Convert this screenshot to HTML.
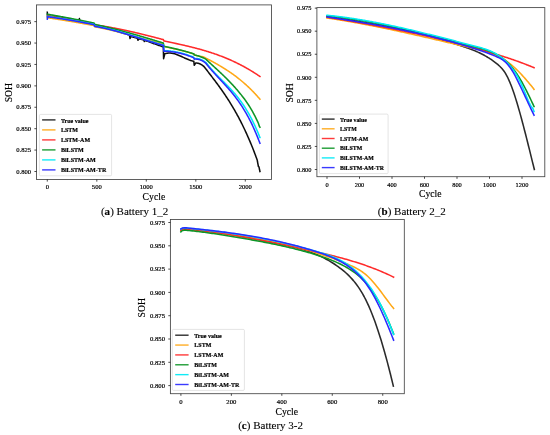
<!DOCTYPE html>
<html><head><meta charset="utf-8"><title>Figure</title>
<style>
html,body{margin:0;padding:0;background:#fff;}
body{width:550px;height:435px;overflow:hidden;position:relative;font-family:"Liberation Serif",serif;}
svg{position:absolute;left:0;top:0;display:block}
.tk{font:6.4px "Liberation Serif",serif;fill:#000;stroke:#000;stroke-width:0.2px}
.lg{font:bold 5.9px "Liberation Serif",serif;fill:#000;stroke:#000;stroke-width:0.18px}
.ax{font:9.7px "Liberation Serif",serif;fill:#000;stroke:#000;stroke-width:0.15px}
.cap{font:9.8px "Liberation Serif",serif;fill:#000;stroke:#000;stroke-width:0.1px}
.cap tspan{font-weight:bold}
</style></head><body>
<svg width="550" height="435" viewBox="0 0 550 435">
<defs><filter id="soft" x="-2%" y="-2%" width="104%" height="104%"><feGaussianBlur stdDeviation="0.32"/></filter></defs>
<rect width="550" height="435" fill="#fff"/>
<g filter="url(#soft)">
<g fill="none" stroke-linejoin="round" stroke-linecap="square">
<path d="M47.30,12.21 L47.50,16.06 L47.50,16.06 L48.10,16.12 L48.71,16.18 L49.31,16.24 L49.92,16.30 L50.53,16.36 L51.13,16.42 L51.74,16.49 L52.34,16.55 L52.95,16.62 L53.55,16.69 L54.16,16.76 L54.76,16.83 L55.37,16.90 L55.97,16.97 L56.58,17.04 L57.18,17.12 L57.79,17.19 L58.40,17.27 L59.00,17.35 L59.61,17.43 L60.21,17.51 L60.82,17.59 L61.42,17.67 L62.03,17.76 L62.63,17.84 L63.24,17.93 L63.84,18.02 L64.45,18.11 L65.06,18.20 L65.66,18.29 L66.27,18.38 L66.87,18.48 L67.48,18.57 L68.08,18.67 L68.69,18.76 L69.29,18.86 L69.90,18.96 L70.50,19.06 L71.11,19.17 L71.71,19.27 L72.32,19.37 L72.93,19.48 L73.53,19.59 L74.14,19.69 L74.74,19.80 L75.35,19.91 L75.95,20.03 L76.56,20.14 L77.16,20.25 L77.77,20.37 L78.37,20.48 L78.98,20.60 L79.38,18.63 L79.97,20.94 L79.97,21.12 L80.61,21.27 L81.25,21.42 L81.89,21.56 L82.53,21.71 L83.16,21.85 L83.80,21.99 L84.44,22.13 L85.08,22.27 L85.72,22.41 L86.36,22.54 L87.00,22.68 L87.64,22.81 L88.28,22.94 L88.92,23.07 L89.56,23.19 L90.19,23.32 L90.83,23.44 L91.47,23.56 L92.11,23.68 L92.75,23.80 L93.39,23.91 L94.03,24.03 L94.62,25.48 L95.23,25.63 L95.84,25.77 L96.46,25.92 L97.07,26.06 L97.68,26.21 L98.29,26.36 L98.90,26.51 L99.51,26.66 L100.12,26.81 L100.74,26.96 L101.35,27.11 L101.96,27.26 L102.57,27.42 L103.18,27.57 L103.79,27.73 L104.40,27.89 L105.02,28.05 L105.63,28.21 L106.24,28.37 L106.85,28.53 L107.46,28.69 L108.07,28.85 L108.68,29.02 L109.29,29.18 L109.91,29.35 L110.52,29.51 L111.13,29.68 L111.74,29.85 L112.35,30.02 L112.96,30.19 L113.57,30.36 L114.19,30.54 L114.80,30.71 L115.41,30.88 L116.02,31.06 L116.63,31.24 L117.24,31.41 L117.85,31.59 L118.47,31.77 L119.08,31.95 L119.69,32.13 L120.30,32.32 L120.91,32.50 L121.52,32.68 L122.13,32.87 L122.74,33.05 L123.36,33.24 L123.97,33.43 L124.58,33.62 L125.19,33.81 L125.80,34.00 L126.41,34.19 L127.02,34.38 L127.64,34.57 L128.25,34.77 L128.86,34.96 L129.47,35.16 L130.06,38.50 L130.95,36.19 L130.95,36.62 L137.39,38.33 L137.98,40.21 L139.37,38.76 L143.82,40.04 L144.32,41.50 L145.31,40.47 L145.31,40.47 L145.93,40.70 L146.55,40.93 L147.17,41.16 L147.80,41.39 L148.42,41.62 L149.04,41.85 L149.66,42.08 L150.28,42.31 L150.90,42.53 L151.52,42.76 L152.14,42.98 L152.77,43.20 L153.39,43.43 L154.01,43.65 L154.63,43.87 L155.25,44.09 L155.87,44.31 L156.49,44.53 L157.11,44.75 L157.74,44.97 L158.36,45.18 L158.98,45.40 L159.60,45.62 L160.22,45.83 L160.84,46.05 L161.46,46.26 L162.09,46.47 L162.71,46.68 L163.33,46.89 L163.62,58.63 L164.81,53.83 L164.81,53.83 L165.43,53.62 L166.05,53.45 L166.66,53.31 L167.28,53.20 L167.90,53.12 L168.52,53.07 L169.13,53.04 L169.75,53.04 L170.37,53.07 L170.98,53.12 L171.60,53.19 L172.22,53.29 L172.84,53.40 L173.45,53.54 L174.07,53.69 L174.69,53.86 L175.30,54.05 L175.92,54.25 L176.54,54.46 L177.16,54.69 L177.77,54.92 L178.39,55.17 L179.01,55.43 L179.63,55.69 L180.24,55.96 L180.86,56.24 L181.48,56.52 L182.09,56.80 L182.71,57.09 L183.33,57.38 L183.95,57.66 L184.56,57.95 L185.18,58.23 L185.80,58.51 L186.41,58.78 L187.03,59.05 L187.65,59.31 L188.27,59.56 L188.88,59.81 L189.50,60.04 L190.12,60.26 L190.73,60.47 L191.35,60.66 L191.97,60.84 L192.59,61.00 L193.20,61.15 L193.82,61.27 L194.22,65.22 L195.70,62.99 L195.70,62.99 L196.35,63.00 L197.00,63.06 L197.64,63.16 L198.29,63.30 L198.94,63.50 L199.58,63.73 L200.23,64.02 L200.88,64.35 L201.53,64.72 L202.17,65.14 L202.82,65.61 L203.47,66.12 L204.12,66.68 L204.12,66.66 L204.72,67.44 L205.32,68.23 L205.93,69.01 L206.53,69.79 L207.13,70.57 L207.73,71.35 L208.34,72.14 L208.94,72.92 L209.54,73.70 L210.15,74.48 L210.75,75.27 L211.35,76.06 L211.95,76.85 L212.56,77.64 L213.16,78.43 L213.76,79.22 L214.37,80.02 L214.97,80.82 L215.57,81.63 L216.18,82.44 L216.78,83.25 L217.38,84.07 L217.99,84.89 L218.59,85.71 L219.19,86.54 L219.79,87.38 L220.40,88.22 L221.00,89.07 L221.60,89.92 L222.21,90.78 L222.81,91.64 L223.41,92.52 L224.01,93.39 L224.62,94.28 L225.22,95.17 L225.82,96.08 L226.43,96.98 L227.03,97.90 L227.63,98.83 L228.24,99.76 L228.84,100.71 L229.44,101.66 L230.05,102.62 L230.65,103.59 L231.25,104.58 L231.85,105.57 L232.46,106.57 L233.06,107.59 L233.66,108.61 L234.27,109.65 L234.87,110.70 L235.47,111.76 L236.07,112.83 L236.68,113.91 L237.28,115.01 L237.88,116.12 L238.49,117.24 L239.09,118.38 L239.69,119.53 L240.30,120.69 L240.90,121.87 L241.50,123.07 L242.11,124.27 L242.71,125.49 L243.31,126.73 L243.91,127.99 L244.52,129.25 L245.12,130.54 L245.72,131.84 L246.33,133.16 L246.93,134.49 L247.53,135.84 L248.13,137.21 L248.74,138.60 L249.34,140.00 L249.94,141.42 L250.55,142.86 L251.15,144.32 L251.75,145.80 L252.36,147.29 L252.96,148.81 L253.56,150.34 L254.17,151.90 L254.77,153.47 L255.37,155.07 L255.97,156.68 L256.58,158.32 L257.18,159.98 L258.37,166.36 L258.96,166.79 L259.95,171.50" stroke="#111" stroke-width="1.55"/>
<path d="M47.30,17.69 L47.91,17.78 L48.51,17.87 L49.12,17.96 L49.73,18.05 L50.33,18.15 L50.94,18.24 L51.55,18.33 L52.15,18.42 L52.76,18.52 L53.37,18.61 L53.98,18.70 L54.58,18.80 L55.19,18.89 L55.80,18.99 L56.40,19.08 L57.01,19.18 L57.62,19.27 L58.22,19.37 L58.83,19.46 L59.44,19.56 L60.04,19.66 L60.65,19.76 L61.26,19.85 L61.86,19.95 L62.47,20.05 L63.08,20.15 L63.69,20.25 L64.29,20.34 L64.90,20.44 L65.51,20.54 L66.11,20.64 L66.72,20.74 L67.33,20.84 L67.93,20.94 L68.54,21.05 L69.15,21.15 L69.75,21.25 L70.36,21.35 L70.97,21.45 L71.57,21.56 L72.18,21.66 L72.79,21.76 L73.39,21.86 L74.00,21.97 L74.61,22.07 L75.22,22.18 L75.82,22.28 L76.43,22.39 L77.04,22.49 L77.64,22.60 L78.25,22.70 L78.86,22.81 L79.46,22.92 L80.07,23.02 L80.68,23.13 L81.28,23.24 L81.89,23.35 L82.50,23.46 L83.10,23.56 L83.71,23.67 L84.32,23.78 L84.93,23.89 L85.53,24.00 L86.14,24.11 L86.75,24.22 L87.35,24.33 L87.96,24.44 L88.57,24.55 L89.17,24.67 L89.78,24.78 L90.39,24.89 L90.99,25.00 L91.60,25.12 L92.21,25.23 L92.81,25.34 L93.42,25.46 L94.03,25.57 L94.62,26.77 L95.22,26.87 L95.83,26.98 L96.43,27.09 L97.03,27.20 L97.64,27.31 L98.24,27.43 L98.84,27.54 L99.44,27.66 L100.05,27.78 L100.65,27.90 L101.25,28.02 L101.85,28.15 L102.46,28.27 L103.06,28.40 L103.66,28.52 L104.26,28.65 L104.87,28.78 L105.47,28.91 L106.07,29.04 L106.68,29.18 L107.28,29.31 L107.88,29.45 L108.48,29.58 L109.09,29.72 L109.69,29.86 L110.29,30.00 L110.89,30.14 L111.50,30.29 L112.10,30.43 L112.70,30.57 L113.31,30.72 L113.91,30.87 L114.51,31.01 L115.11,31.16 L115.72,31.31 L116.32,31.46 L116.92,31.61 L117.52,31.76 L118.13,31.91 L118.73,32.07 L119.33,32.22 L119.93,32.38 L120.54,32.53 L121.14,32.69 L121.74,32.84 L122.35,33.00 L122.95,33.16 L123.55,33.32 L124.15,33.48 L124.76,33.64 L125.36,33.80 L125.96,33.96 L126.56,34.12 L127.17,34.28 L127.77,34.44 L128.37,34.60 L128.97,34.77 L129.58,34.93 L130.18,35.09 L130.78,35.26 L131.39,35.42 L131.99,35.59 L132.59,35.75 L133.19,35.92 L133.80,36.08 L134.40,36.25 L135.00,36.41 L135.60,36.58 L136.21,36.74 L136.81,36.91 L137.41,37.08 L138.02,37.24 L138.62,37.41 L139.22,37.57 L139.82,37.74 L140.43,37.91 L141.03,38.07 L141.63,38.24 L142.23,38.40 L142.84,38.57 L143.44,38.74 L144.04,38.90 L144.64,39.07 L145.25,39.23 L145.85,39.40 L146.45,39.56 L147.06,39.73 L147.66,39.89 L148.26,40.05 L148.86,40.22 L149.47,40.38 L150.07,40.54 L150.67,40.71 L151.27,40.87 L151.88,41.03 L152.48,41.19 L153.08,41.35 L153.69,41.51 L154.29,41.67 L154.89,41.83 L155.49,41.99 L156.10,42.14 L156.70,42.30 L157.30,42.46 L157.90,42.61 L158.51,42.77 L159.11,42.92 L159.71,43.08 L160.31,43.23 L160.92,43.38 L161.52,43.53 L162.12,43.68 L162.73,43.83 L163.33,43.98 L163.92,46.64 L164.53,46.75 L165.14,46.86 L165.75,46.98 L166.36,47.09 L166.97,47.21 L167.58,47.33 L168.19,47.45 L168.80,47.58 L169.41,47.70 L170.02,47.83 L170.63,47.96 L171.24,48.09 L171.85,48.22 L172.46,48.35 L173.07,48.48 L173.68,48.62 L174.29,48.76 L174.90,48.90 L175.52,49.04 L176.13,49.18 L176.74,49.32 L177.35,49.47 L177.96,49.62 L178.57,49.76 L179.18,49.92 L179.79,50.07 L180.40,50.22 L181.01,50.38 L181.62,50.53 L182.23,50.69 L182.84,50.85 L183.45,51.01 L184.06,51.18 L184.67,51.34 L185.28,51.51 L185.89,51.67 L186.50,51.84 L187.11,52.01 L187.72,52.19 L188.33,52.36 L188.94,52.54 L189.55,52.71 L190.16,52.89 L190.77,53.07 L191.38,53.26 L191.99,53.44 L192.60,53.63 L193.21,53.81 L193.82,54.00 L194.22,55.03 L194.87,55.20 L195.53,55.36 L196.19,55.51 L196.85,55.66 L197.50,55.80 L198.16,55.94 L198.82,56.07 L199.48,56.19 L200.13,56.31 L200.79,56.43 L201.45,56.54 L202.11,56.64 L202.77,56.74 L203.42,56.83 L203.42,56.83 L204.02,57.14 L204.63,57.45 L205.23,57.77 L205.83,58.08 L206.43,58.39 L207.03,58.71 L207.63,59.03 L208.23,59.34 L208.84,59.66 L209.44,59.98 L210.04,60.30 L210.64,60.63 L211.24,60.95 L211.84,61.28 L212.44,61.60 L213.04,61.93 L213.65,62.26 L214.25,62.60 L214.85,62.93 L215.45,63.27 L216.05,63.60 L216.65,63.95 L217.25,64.29 L217.86,64.63 L218.46,64.98 L219.06,65.33 L219.66,65.68 L220.26,66.04 L220.86,66.39 L221.46,66.75 L222.07,67.12 L222.67,67.48 L223.27,67.85 L223.87,68.23 L224.47,68.60 L225.07,68.98 L225.67,69.36 L226.28,69.75 L226.88,70.14 L227.48,70.53 L228.08,70.92 L228.68,71.32 L229.28,71.73 L229.88,72.14 L230.48,72.55 L231.09,72.96 L231.69,73.38 L232.29,73.81 L232.89,74.24 L233.49,74.67 L234.09,75.10 L234.69,75.55 L235.30,75.99 L235.90,76.44 L236.50,76.90 L237.10,77.36 L237.70,77.82 L238.30,78.30 L238.90,78.77 L239.51,79.25 L240.11,79.74 L240.71,80.23 L241.31,80.73 L241.91,81.23 L242.51,81.73 L243.11,82.25 L243.71,82.77 L244.32,83.29 L244.92,83.82 L245.52,84.36 L246.12,84.90 L246.72,85.45 L247.32,86.01 L247.92,86.57 L248.53,87.13 L249.13,87.71 L249.73,88.29 L250.33,88.88 L250.93,89.47 L251.53,90.07 L252.13,90.68 L252.74,91.29 L253.34,91.91 L253.94,92.54 L254.54,93.18 L255.14,93.82 L255.74,94.47 L256.34,95.13 L256.95,95.79 L257.55,96.47 L258.15,97.15 L258.75,97.84 L259.35,98.53 L259.95,99.23" stroke="#ffa714" stroke-width="1.55"/>
<path d="M47.30,16.06 L47.91,16.14 L48.51,16.21 L49.12,16.28 L49.73,16.36 L50.33,16.43 L50.94,16.51 L51.55,16.59 L52.15,16.66 L52.76,16.74 L53.37,16.82 L53.98,16.90 L54.58,16.98 L55.19,17.06 L55.80,17.14 L56.40,17.23 L57.01,17.31 L57.62,17.39 L58.22,17.48 L58.83,17.56 L59.44,17.65 L60.04,17.73 L60.65,17.82 L61.26,17.91 L61.86,18.00 L62.47,18.09 L63.08,18.18 L63.69,18.27 L64.29,18.36 L64.90,18.45 L65.51,18.54 L66.11,18.64 L66.72,18.73 L67.33,18.83 L67.93,18.92 L68.54,19.02 L69.15,19.11 L69.75,19.21 L70.36,19.31 L70.97,19.41 L71.57,19.51 L72.18,19.61 L72.79,19.71 L73.39,19.81 L74.00,19.92 L74.61,20.02 L75.22,20.12 L75.82,20.23 L76.43,20.33 L77.04,20.44 L77.64,20.54 L78.25,20.65 L78.86,20.76 L79.46,20.87 L80.07,20.98 L80.68,21.09 L81.28,21.20 L81.89,21.31 L82.50,21.42 L83.10,21.54 L83.71,21.65 L84.32,21.76 L84.93,21.88 L85.53,21.99 L86.14,22.11 L86.75,22.23 L87.35,22.34 L87.96,22.46 L88.57,22.58 L89.17,22.70 L89.78,22.82 L90.39,22.94 L90.99,23.07 L91.60,23.19 L92.21,23.31 L92.81,23.44 L93.42,23.56 L94.03,23.69 L94.62,24.89 L95.22,24.97 L95.83,25.05 L96.43,25.13 L97.03,25.22 L97.64,25.30 L98.24,25.39 L98.84,25.48 L99.44,25.56 L100.05,25.65 L100.65,25.75 L101.25,25.84 L101.85,25.93 L102.46,26.02 L103.06,26.12 L103.66,26.22 L104.26,26.31 L104.87,26.41 L105.47,26.51 L106.07,26.61 L106.68,26.71 L107.28,26.82 L107.88,26.92 L108.48,27.03 L109.09,27.13 L109.69,27.24 L110.29,27.35 L110.89,27.46 L111.50,27.56 L112.10,27.68 L112.70,27.79 L113.31,27.90 L113.91,28.01 L114.51,28.13 L115.11,28.24 L115.72,28.36 L116.32,28.48 L116.92,28.60 L117.52,28.71 L118.13,28.83 L118.73,28.95 L119.33,29.08 L119.93,29.20 L120.54,29.32 L121.14,29.45 L121.74,29.57 L122.35,29.70 L122.95,29.82 L123.55,29.95 L124.15,30.08 L124.76,30.21 L125.36,30.34 L125.96,30.47 L126.56,30.60 L127.17,30.73 L127.77,30.86 L128.37,31.00 L128.97,31.13 L129.58,31.26 L130.18,31.40 L130.78,31.54 L131.39,31.67 L131.99,31.81 L132.59,31.95 L133.19,32.09 L133.80,32.23 L134.40,32.36 L135.00,32.51 L135.60,32.65 L136.21,32.79 L136.81,32.93 L137.41,33.07 L138.02,33.22 L138.62,33.36 L139.22,33.50 L139.82,33.65 L140.43,33.79 L141.03,33.94 L141.63,34.09 L142.23,34.23 L142.84,34.38 L143.44,34.53 L144.04,34.68 L144.64,34.83 L145.25,34.98 L145.85,35.13 L146.45,35.28 L147.06,35.43 L147.66,35.58 L148.26,35.73 L148.86,35.88 L149.47,36.03 L150.07,36.19 L150.67,36.34 L151.27,36.49 L151.88,36.64 L152.48,36.80 L153.08,36.95 L153.69,37.11 L154.29,37.26 L154.89,37.42 L155.49,37.57 L156.10,37.73 L156.70,37.88 L157.30,38.04 L157.90,38.20 L158.51,38.35 L159.11,38.51 L159.71,38.67 L160.31,38.83 L160.92,38.98 L161.52,39.14 L162.12,39.30 L162.73,39.46 L163.33,39.62 L163.92,40.99 L164.52,41.11 L165.12,41.24 L165.72,41.36 L166.32,41.48 L166.92,41.61 L167.52,41.73 L168.12,41.85 L168.72,41.98 L169.32,42.10 L169.92,42.23 L170.52,42.35 L171.12,42.48 L171.72,42.60 L172.32,42.73 L172.92,42.86 L173.53,42.98 L174.13,43.11 L174.73,43.24 L175.33,43.37 L175.93,43.50 L176.53,43.62 L177.13,43.75 L177.73,43.88 L178.33,44.02 L178.93,44.15 L179.53,44.28 L180.13,44.41 L180.73,44.54 L181.33,44.68 L181.93,44.81 L182.53,44.95 L183.13,45.08 L183.73,45.22 L184.33,45.36 L184.93,45.50 L185.53,45.64 L186.13,45.78 L186.73,45.92 L187.33,46.06 L187.93,46.20 L188.53,46.35 L189.13,46.49 L189.73,46.64 L190.33,46.78 L190.93,46.93 L191.53,47.08 L192.13,47.23 L192.73,47.38 L193.33,47.53 L193.93,47.68 L194.53,47.84 L195.13,47.99 L195.73,48.15 L196.33,48.31 L196.93,48.47 L197.53,48.63 L198.13,48.79 L198.73,48.95 L199.33,49.12 L199.93,49.28 L200.53,49.45 L201.13,49.62 L201.73,49.79 L202.33,49.96 L202.93,50.13 L203.53,50.31 L204.13,50.48 L204.73,50.66 L205.33,50.84 L205.94,51.02 L206.54,51.20 L207.14,51.39 L207.74,51.57 L208.34,51.76 L208.94,51.95 L209.54,52.14 L210.14,52.33 L210.74,52.52 L211.34,52.72 L211.94,52.92 L212.54,53.12 L213.14,53.32 L213.74,53.52 L214.34,53.73 L214.94,53.93 L215.54,54.14 L216.14,54.35 L216.74,54.56 L217.34,54.78 L217.94,55.00 L218.54,55.21 L219.14,55.44 L219.74,55.66 L220.34,55.88 L220.94,56.11 L221.54,56.34 L222.14,56.57 L222.74,56.81 L223.34,57.04 L223.94,57.28 L224.54,57.52 L225.14,57.76 L225.74,58.01 L226.34,58.25 L226.94,58.50 L227.54,58.76 L228.14,59.01 L228.74,59.27 L229.34,59.53 L229.94,59.79 L230.54,60.05 L231.14,60.32 L231.74,60.59 L232.34,60.86 L232.94,61.14 L233.54,61.41 L234.14,61.69 L234.74,61.97 L235.34,62.26 L235.94,62.55 L236.54,62.84 L237.14,63.13 L237.75,63.43 L238.35,63.72 L238.95,64.03 L239.55,64.33 L240.15,64.64 L240.75,64.95 L241.35,65.26 L241.95,65.57 L242.55,65.89 L243.15,66.22 L243.75,66.54 L244.35,66.87 L244.95,67.20 L245.55,67.53 L246.15,67.87 L246.75,68.21 L247.35,68.55 L247.95,68.90 L248.55,69.24 L249.15,69.60 L249.75,69.95 L250.35,70.31 L250.95,70.67 L251.55,71.04 L252.15,71.41 L252.75,71.78 L253.35,72.15 L253.95,72.53 L254.55,72.91 L255.15,73.30 L255.75,73.69 L256.35,74.08 L256.95,74.47 L257.55,74.87 L258.15,75.27 L258.75,75.68 L259.35,76.09 L259.95,76.50" stroke="#ff2b2b" stroke-width="1.55"/>
<path d="M47.30,14.18 L47.91,14.28 L48.51,14.39 L49.12,14.49 L49.73,14.59 L50.33,14.70 L50.94,14.80 L51.55,14.91 L52.15,15.02 L52.76,15.12 L53.37,15.23 L53.98,15.33 L54.58,15.44 L55.19,15.55 L55.80,15.66 L56.40,15.76 L57.01,15.87 L57.62,15.98 L58.22,16.09 L58.83,16.20 L59.44,16.31 L60.04,16.42 L60.65,16.53 L61.26,16.64 L61.86,16.75 L62.47,16.86 L63.08,16.97 L63.69,17.08 L64.29,17.20 L64.90,17.31 L65.51,17.42 L66.11,17.54 L66.72,17.65 L67.33,17.76 L67.93,17.88 L68.54,17.99 L69.15,18.11 L69.75,18.22 L70.36,18.34 L70.97,18.45 L71.57,18.57 L72.18,18.68 L72.79,18.80 L73.39,18.92 L74.00,19.03 L74.61,19.15 L75.22,19.27 L75.82,19.39 L76.43,19.51 L77.04,19.63 L77.64,19.75 L78.25,19.86 L78.86,19.98 L79.46,20.10 L80.07,20.23 L80.68,20.35 L81.28,20.47 L81.89,20.59 L82.50,20.71 L83.10,20.83 L83.71,20.95 L84.32,21.08 L84.93,21.20 L85.53,21.32 L86.14,21.45 L86.75,21.57 L87.35,21.70 L87.96,21.82 L88.57,21.95 L89.17,22.07 L89.78,22.20 L90.39,22.32 L90.99,22.45 L91.60,22.58 L92.21,22.70 L92.81,22.83 L93.42,22.96 L94.03,23.09 L94.62,24.37 L95.22,24.50 L95.83,24.63 L96.43,24.76 L97.03,24.89 L97.64,25.02 L98.24,25.15 L98.84,25.28 L99.44,25.42 L100.05,25.55 L100.65,25.69 L101.25,25.82 L101.85,25.96 L102.46,26.10 L103.06,26.24 L103.66,26.37 L104.26,26.52 L104.87,26.66 L105.47,26.80 L106.07,26.94 L106.68,27.08 L107.28,27.23 L107.88,27.37 L108.48,27.52 L109.09,27.67 L109.69,27.81 L110.29,27.96 L110.89,28.11 L111.50,28.26 L112.10,28.41 L112.70,28.56 L113.31,28.71 L113.91,28.86 L114.51,29.02 L115.11,29.17 L115.72,29.32 L116.32,29.48 L116.92,29.63 L117.52,29.79 L118.13,29.95 L118.73,30.10 L119.33,30.26 L119.93,30.42 L120.54,30.58 L121.14,30.74 L121.74,30.90 L122.35,31.06 L122.95,31.22 L123.55,31.39 L124.15,31.55 L124.76,31.71 L125.36,31.88 L125.96,32.04 L126.56,32.21 L127.17,32.37 L127.77,32.54 L128.37,32.70 L128.97,32.87 L129.58,33.04 L130.18,33.21 L130.78,33.38 L131.39,33.55 L131.99,33.72 L132.59,33.89 L133.19,34.06 L133.80,34.23 L134.40,34.40 L135.00,34.57 L135.60,34.74 L136.21,34.92 L136.81,35.09 L137.41,35.26 L138.02,35.44 L138.62,35.61 L139.22,35.79 L139.82,35.96 L140.43,36.14 L141.03,36.32 L141.63,36.49 L142.23,36.67 L142.84,36.85 L143.44,37.02 L144.04,37.20 L144.64,37.38 L145.25,37.56 L145.85,37.74 L146.45,37.92 L147.06,38.10 L147.66,38.28 L148.26,38.46 L148.86,38.64 L149.47,38.82 L150.07,39.00 L150.67,39.18 L151.27,39.36 L151.88,39.54 L152.48,39.73 L153.08,39.91 L153.69,40.09 L154.29,40.27 L154.89,40.46 L155.49,40.64 L156.10,40.82 L156.70,41.01 L157.30,41.19 L157.90,41.38 L158.51,41.56 L159.11,41.74 L159.71,41.93 L160.31,42.11 L160.92,42.30 L161.52,42.48 L162.12,42.67 L162.73,42.85 L163.33,43.04 L163.92,46.38 L164.53,46.50 L165.14,46.61 L165.75,46.73 L166.36,46.85 L166.97,46.98 L167.58,47.10 L168.19,47.22 L168.80,47.35 L169.41,47.48 L170.02,47.61 L170.63,47.74 L171.24,47.87 L171.85,48.01 L172.46,48.14 L173.07,48.28 L173.68,48.42 L174.29,48.56 L174.90,48.70 L175.52,48.84 L176.13,48.99 L176.74,49.13 L177.35,49.28 L177.96,49.43 L178.57,49.58 L179.18,49.73 L179.79,49.89 L180.40,50.04 L181.01,50.20 L181.62,50.36 L182.23,50.52 L182.84,50.68 L183.45,50.84 L184.06,51.00 L184.67,51.17 L185.28,51.34 L185.89,51.50 L186.50,51.67 L187.11,51.85 L187.72,52.02 L188.33,52.19 L188.94,52.37 L189.55,52.55 L190.16,52.73 L190.77,52.91 L191.38,53.09 L191.99,53.27 L192.60,53.46 L193.21,53.64 L193.82,53.83 L194.22,54.86 L194.85,55.00 L195.48,55.15 L196.11,55.31 L196.75,55.48 L197.38,55.66 L198.01,55.85 L198.64,56.05 L199.28,56.27 L199.91,56.49 L200.54,56.72 L201.17,56.97 L201.81,57.22 L202.44,57.49 L203.07,57.76 L203.70,58.05 L204.34,58.34 L204.97,58.65 L205.60,58.97 L205.60,58.96 L206.20,59.52 L206.80,60.08 L207.40,60.64 L208.00,61.19 L208.60,61.75 L209.21,62.30 L209.81,62.85 L210.41,63.40 L211.01,63.96 L211.61,64.51 L212.21,65.06 L212.81,65.61 L213.41,66.16 L214.01,66.71 L214.61,67.26 L215.21,67.81 L215.81,68.37 L216.41,68.92 L217.02,69.48 L217.62,70.03 L218.22,70.59 L218.82,71.15 L219.42,71.71 L220.02,72.28 L220.62,72.85 L221.22,73.41 L221.82,73.99 L222.42,74.56 L223.02,75.14 L223.62,75.72 L224.22,76.30 L224.82,76.89 L225.43,77.48 L226.03,78.07 L226.63,78.67 L227.23,79.27 L227.83,79.88 L228.43,80.49 L229.03,81.10 L229.63,81.72 L230.23,82.35 L230.83,82.98 L231.43,83.61 L232.03,84.25 L232.63,84.90 L233.24,85.55 L233.84,86.21 L234.44,86.87 L235.04,87.54 L235.64,88.22 L236.24,88.90 L236.84,89.59 L237.44,90.29 L238.04,91.00 L238.64,91.71 L239.24,92.43 L239.84,93.15 L240.44,93.89 L241.05,94.63 L241.65,95.39 L242.25,96.15 L242.85,96.93 L243.45,97.72 L244.05,98.52 L244.65,99.33 L245.25,100.16 L245.85,101.00 L246.45,101.86 L247.05,102.74 L247.65,103.63 L248.25,104.54 L248.86,105.47 L249.46,106.42 L250.06,107.39 L250.66,108.38 L251.26,109.39 L251.86,110.42 L252.46,111.48 L253.06,112.56 L253.66,113.67 L254.26,114.80 L254.86,115.95 L255.46,117.14 L256.06,118.35 L256.66,119.59 L257.27,120.86 L257.87,122.16 L258.47,123.49 L259.26,126.11 L259.95,127.31" stroke="#0c9526" stroke-width="1.55"/>
<path d="M47.30,16.49 L47.91,16.57 L48.51,16.65 L49.12,16.73 L49.73,16.81 L50.33,16.90 L50.94,16.98 L51.55,17.06 L52.15,17.15 L52.76,17.23 L53.37,17.32 L53.98,17.40 L54.58,17.49 L55.19,17.58 L55.80,17.67 L56.40,17.76 L57.01,17.84 L57.62,17.93 L58.22,18.02 L58.83,18.12 L59.44,18.21 L60.04,18.30 L60.65,18.39 L61.26,18.49 L61.86,18.58 L62.47,18.68 L63.08,18.77 L63.69,18.87 L64.29,18.96 L64.90,19.06 L65.51,19.16 L66.11,19.26 L66.72,19.36 L67.33,19.46 L67.93,19.56 L68.54,19.66 L69.15,19.76 L69.75,19.86 L70.36,19.96 L70.97,20.07 L71.57,20.17 L72.18,20.28 L72.79,20.38 L73.39,20.49 L74.00,20.59 L74.61,20.70 L75.22,20.81 L75.82,20.92 L76.43,21.03 L77.04,21.14 L77.64,21.25 L78.25,21.36 L78.86,21.47 L79.46,21.58 L80.07,21.69 L80.68,21.81 L81.28,21.92 L81.89,22.03 L82.50,22.15 L83.10,22.27 L83.71,22.38 L84.32,22.50 L84.93,22.62 L85.53,22.74 L86.14,22.85 L86.75,22.97 L87.35,23.09 L87.96,23.21 L88.57,23.34 L89.17,23.46 L89.78,23.58 L90.39,23.70 L90.99,23.83 L91.60,23.95 L92.21,24.08 L92.81,24.20 L93.42,24.33 L94.03,24.46 L94.62,26.08 L95.22,26.18 L95.83,26.29 L96.43,26.39 L97.03,26.50 L97.64,26.61 L98.24,26.72 L98.84,26.84 L99.44,26.95 L100.05,27.07 L100.65,27.19 L101.25,27.32 L101.85,27.44 L102.46,27.57 L103.06,27.70 L103.66,27.83 L104.26,27.96 L104.87,28.09 L105.47,28.23 L106.07,28.37 L106.68,28.50 L107.28,28.65 L107.88,28.79 L108.48,28.93 L109.09,29.08 L109.69,29.23 L110.29,29.38 L110.89,29.53 L111.50,29.68 L112.10,29.83 L112.70,29.99 L113.31,30.14 L113.91,30.30 L114.51,30.46 L115.11,30.62 L115.72,30.78 L116.32,30.95 L116.92,31.11 L117.52,31.27 L118.13,31.44 L118.73,31.61 L119.33,31.78 L119.93,31.95 L120.54,32.12 L121.14,32.29 L121.74,32.46 L122.35,32.64 L122.95,32.81 L123.55,32.99 L124.15,33.16 L124.76,33.34 L125.36,33.52 L125.96,33.70 L126.56,33.88 L127.17,34.06 L127.77,34.24 L128.37,34.42 L128.97,34.61 L129.58,34.79 L130.18,34.97 L130.78,35.16 L131.39,35.34 L131.99,35.53 L132.59,35.71 L133.19,35.90 L133.80,36.09 L134.40,36.27 L135.00,36.46 L135.60,36.65 L136.21,36.83 L136.81,37.02 L137.41,37.21 L138.02,37.40 L138.62,37.59 L139.22,37.78 L139.82,37.97 L140.43,38.15 L141.03,38.34 L141.63,38.53 L142.23,38.72 L142.84,38.91 L143.44,39.10 L144.04,39.29 L144.64,39.48 L145.25,39.67 L145.85,39.85 L146.45,40.04 L147.06,40.23 L147.66,40.42 L148.26,40.60 L148.86,40.79 L149.47,40.98 L150.07,41.16 L150.67,41.35 L151.27,41.53 L151.88,41.72 L152.48,41.90 L153.08,42.09 L153.69,42.27 L154.29,42.45 L154.89,42.63 L155.49,42.81 L156.10,42.99 L156.70,43.17 L157.30,43.35 L157.90,43.53 L158.51,43.71 L159.11,43.88 L159.71,44.06 L160.31,44.24 L160.92,44.41 L161.52,44.58 L162.12,44.75 L162.73,44.92 L163.33,45.09 L163.92,50.66 L164.53,50.67 L165.14,50.69 L165.75,50.72 L166.36,50.74 L166.97,50.78 L167.58,50.82 L168.19,50.86 L168.80,50.91 L169.41,50.96 L170.02,51.02 L170.63,51.08 L171.24,51.15 L171.85,51.23 L172.46,51.31 L173.07,51.39 L173.68,51.48 L174.29,51.58 L174.90,51.68 L175.52,51.78 L176.13,51.89 L176.74,52.01 L177.35,52.13 L177.96,52.26 L178.57,52.39 L179.18,52.52 L179.79,52.67 L180.40,52.81 L181.01,52.96 L181.62,53.12 L182.23,53.28 L182.84,53.45 L183.45,53.62 L184.06,53.80 L184.67,53.98 L185.28,54.17 L185.89,54.36 L186.50,54.56 L187.11,54.77 L187.72,54.97 L188.33,55.19 L188.94,55.41 L189.55,55.63 L190.16,55.86 L190.77,56.09 L191.38,56.33 L191.99,56.58 L192.60,56.83 L193.21,57.08 L193.82,57.34 L194.22,58.46 L194.87,58.41 L195.52,58.40 L196.18,58.41 L196.83,58.46 L197.49,58.55 L198.14,58.66 L198.80,58.81 L199.45,58.99 L200.11,59.20 L200.76,59.45 L201.42,59.72 L202.07,60.03 L202.72,60.37 L203.38,60.75 L204.03,61.15 L204.69,61.59 L205.34,62.06 L206.00,62.57 L206.00,62.55 L206.60,63.33 L207.21,64.10 L207.82,64.86 L208.42,65.60 L209.03,66.34 L209.63,67.06 L210.24,67.77 L210.85,68.48 L211.45,69.17 L212.06,69.85 L212.67,70.53 L213.27,71.20 L213.88,71.86 L214.48,72.51 L215.09,73.16 L215.70,73.80 L216.30,74.43 L216.91,75.06 L217.52,75.69 L218.12,76.31 L218.73,76.93 L219.33,77.55 L219.94,78.16 L220.55,78.77 L221.15,79.38 L221.76,79.98 L222.37,80.59 L222.97,81.20 L223.58,81.81 L224.18,82.41 L224.79,83.02 L225.40,83.64 L226.00,84.25 L226.61,84.87 L227.22,85.49 L227.82,86.11 L228.43,86.74 L229.03,87.37 L229.64,88.01 L230.25,88.65 L230.85,89.30 L231.46,89.96 L232.07,90.63 L232.67,91.30 L233.28,91.98 L233.88,92.67 L234.49,93.37 L235.10,94.08 L235.70,94.79 L236.31,95.52 L236.92,96.26 L237.52,97.02 L238.13,97.78 L238.73,98.56 L239.34,99.35 L239.95,100.15 L240.55,100.97 L241.16,101.80 L241.76,102.65 L242.37,103.51 L242.98,104.39 L243.58,105.29 L244.19,106.20 L244.80,107.13 L245.40,108.08 L246.01,109.05 L246.61,110.03 L247.22,111.04 L247.83,112.07 L248.43,113.11 L249.04,114.18 L249.65,115.27 L250.25,116.38 L250.86,117.52 L251.46,118.67 L252.07,119.85 L252.68,121.06 L253.28,122.29 L253.89,123.54 L254.50,124.82 L255.10,126.13 L255.71,127.46 L256.31,128.82 L256.92,130.20 L257.53,131.62 L258.13,133.06 L258.74,134.53 L259.35,136.03 L259.95,137.56" stroke="#00eaf5" stroke-width="1.55"/>
<path d="M47.30,19.06 L47.50,16.75 L47.50,16.75 L48.10,16.83 L48.71,16.91 L49.31,16.99 L49.92,17.07 L50.52,17.16 L51.12,17.24 L51.73,17.33 L52.33,17.41 L52.94,17.50 L53.54,17.58 L54.15,17.67 L54.75,17.76 L55.35,17.84 L55.96,17.93 L56.56,18.02 L57.17,18.11 L57.77,18.20 L58.38,18.29 L58.98,18.38 L59.58,18.48 L60.19,18.57 L60.79,18.66 L61.40,18.76 L62.00,18.85 L62.61,18.95 L63.21,19.04 L63.81,19.14 L64.42,19.23 L65.02,19.33 L65.63,19.43 L66.23,19.53 L66.84,19.63 L67.44,19.73 L68.04,19.83 L68.65,19.93 L69.25,20.03 L69.86,20.13 L70.46,20.24 L71.07,20.34 L71.67,20.44 L72.27,20.55 L72.88,20.65 L73.48,20.76 L74.09,20.86 L74.69,20.97 L75.30,21.08 L75.90,21.19 L76.50,21.30 L77.11,21.41 L77.71,21.52 L78.32,21.63 L78.92,21.74 L79.53,21.85 L80.13,21.96 L80.73,22.08 L81.34,22.19 L81.94,22.30 L82.55,22.42 L83.15,22.53 L83.76,22.65 L84.36,22.77 L84.96,22.88 L85.57,23.00 L86.17,23.12 L86.78,23.24 L87.38,23.36 L87.99,23.48 L88.59,23.60 L89.19,23.72 L89.80,23.84 L90.40,23.96 L91.01,24.09 L91.61,24.21 L92.22,24.34 L92.82,24.46 L93.42,24.59 L94.03,24.71 L94.62,26.34 L95.22,26.44 L95.83,26.54 L96.43,26.64 L97.03,26.75 L97.64,26.86 L98.24,26.97 L98.84,27.08 L99.44,27.20 L100.05,27.32 L100.65,27.44 L101.25,27.56 L101.85,27.68 L102.46,27.81 L103.06,27.94 L103.66,28.07 L104.26,28.20 L104.87,28.33 L105.47,28.47 L106.07,28.61 L106.68,28.75 L107.28,28.89 L107.88,29.03 L108.48,29.17 L109.09,29.32 L109.69,29.47 L110.29,29.62 L110.89,29.77 L111.50,29.92 L112.10,30.07 L112.70,30.23 L113.31,30.39 L113.91,30.55 L114.51,30.71 L115.11,30.87 L115.72,31.03 L116.32,31.19 L116.92,31.36 L117.52,31.53 L118.13,31.69 L118.73,31.86 L119.33,32.03 L119.93,32.20 L120.54,32.38 L121.14,32.55 L121.74,32.72 L122.35,32.90 L122.95,33.07 L123.55,33.25 L124.15,33.43 L124.76,33.61 L125.36,33.79 L125.96,33.97 L126.56,34.15 L127.17,34.33 L127.77,34.52 L128.37,34.70 L128.97,34.88 L129.58,35.07 L130.18,35.25 L130.78,35.44 L131.39,35.63 L131.99,35.81 L132.59,36.00 L133.19,36.19 L133.80,36.38 L134.40,36.57 L135.00,36.75 L135.60,36.94 L136.21,37.13 L136.81,37.32 L137.41,37.51 L138.02,37.70 L138.62,37.89 L139.22,38.08 L139.82,38.27 L140.43,38.46 L141.03,38.66 L141.63,38.85 L142.23,39.04 L142.84,39.23 L143.44,39.42 L144.04,39.61 L144.64,39.80 L145.25,39.99 L145.85,40.18 L146.45,40.37 L147.06,40.56 L147.66,40.74 L148.26,40.93 L148.86,41.12 L149.47,41.31 L150.07,41.50 L150.67,41.68 L151.27,41.87 L151.88,42.05 L152.48,42.24 L153.08,42.42 L153.69,42.61 L154.29,42.79 L154.89,42.97 L155.49,43.15 L156.10,43.34 L156.70,43.52 L157.30,43.69 L157.90,43.87 L158.51,44.05 L159.11,44.23 L159.71,44.40 L160.31,44.58 L160.92,44.75 L161.52,44.92 L162.12,45.10 L162.73,45.27 L163.33,45.44 L163.92,51.18 L164.53,51.19 L165.14,51.21 L165.75,51.23 L166.36,51.26 L166.97,51.29 L167.58,51.33 L168.19,51.37 L168.80,51.42 L169.41,51.48 L170.02,51.53 L170.63,51.60 L171.24,51.67 L171.85,51.74 L172.46,51.82 L173.07,51.91 L173.68,52.00 L174.29,52.09 L174.90,52.19 L175.52,52.30 L176.13,52.41 L176.74,52.52 L177.35,52.64 L177.96,52.77 L178.57,52.90 L179.18,53.04 L179.79,53.18 L180.40,53.33 L181.01,53.48 L181.62,53.63 L182.23,53.80 L182.84,53.96 L183.45,54.14 L184.06,54.31 L184.67,54.50 L185.28,54.68 L185.89,54.88 L186.50,55.08 L187.11,55.28 L187.72,55.49 L188.33,55.70 L188.94,55.92 L189.55,56.14 L190.16,56.37 L190.77,56.61 L191.38,56.85 L191.99,57.09 L192.60,57.34 L193.21,57.60 L193.82,57.86 L194.22,59.14 L194.85,59.09 L195.48,59.08 L196.11,59.09 L196.75,59.14 L197.38,59.21 L198.01,59.32 L198.64,59.45 L199.28,59.62 L199.91,59.82 L200.54,60.05 L201.17,60.31 L201.81,60.60 L202.44,60.92 L203.07,61.28 L203.70,61.66 L204.34,62.07 L204.97,62.52 L205.60,62.99 L205.60,62.97 L206.20,63.74 L206.81,64.49 L207.41,65.24 L208.02,65.97 L208.62,66.70 L209.22,67.42 L209.83,68.13 L210.43,68.84 L211.04,69.53 L211.64,70.23 L212.24,70.91 L212.85,71.59 L213.45,72.27 L214.06,72.94 L214.66,73.60 L215.26,74.27 L215.87,74.93 L216.47,75.58 L217.08,76.24 L217.68,76.89 L218.28,77.54 L218.89,78.19 L219.49,78.84 L220.09,79.48 L220.70,80.13 L221.30,80.78 L221.91,81.43 L222.51,82.08 L223.11,82.73 L223.72,83.39 L224.32,84.05 L224.93,84.71 L225.53,85.37 L226.13,86.04 L226.74,86.71 L227.34,87.39 L227.95,88.07 L228.55,88.76 L229.15,89.46 L229.76,90.16 L230.36,90.87 L230.96,91.58 L231.57,92.30 L232.17,93.03 L232.78,93.77 L233.38,94.52 L233.98,95.28 L234.59,96.05 L235.19,96.83 L235.80,97.62 L236.40,98.42 L237.00,99.23 L237.61,100.06 L238.21,100.89 L238.82,101.74 L239.42,102.61 L240.02,103.48 L240.63,104.38 L241.23,105.28 L241.83,106.20 L242.44,107.14 L243.04,108.10 L243.65,109.07 L244.25,110.06 L244.85,111.06 L245.46,112.09 L246.06,113.13 L246.67,114.19 L247.27,115.27 L247.87,116.37 L248.48,117.50 L249.08,118.64 L249.69,119.80 L250.29,120.99 L250.89,122.20 L251.50,123.43 L252.10,124.69 L252.71,125.97 L253.31,127.27 L253.91,128.60 L254.52,129.95 L255.12,131.33 L255.72,132.74 L256.33,134.17 L256.93,135.63 L257.54,137.12 L258.14,138.64 L258.74,140.18 L259.35,141.76 L259.95,143.36" stroke="#2c2cff" stroke-width="1.55"/>
</g>
<rect x="39.4" y="114.4" width="72.2" height="61.4" rx="1.2" fill="#fff" fill-opacity="0.8" stroke="#d2d2d2" stroke-width="0.6"/>
<line x1="42.10" x2="55.50" y1="119.90" y2="119.90" stroke="#1c1c1c" stroke-width="1.4" stroke-opacity="0.93"/>
<text x="60.90" y="122.50" class="lg" style="font-size:6.05px">True value</text>
<line x1="42.10" x2="55.50" y1="129.90" y2="129.90" stroke="#ffa714" stroke-width="1.4" stroke-opacity="0.93"/>
<text x="60.90" y="131.90" class="lg" style="font-size:6.05px">LSTM</text>
<line x1="42.10" x2="55.50" y1="139.90" y2="139.90" stroke="#ff2b2b" stroke-width="1.4" stroke-opacity="0.93"/>
<text x="60.90" y="141.90" class="lg" style="font-size:6.05px">LSTM-AM</text>
<line x1="42.10" x2="55.50" y1="149.90" y2="149.90" stroke="#0c9526" stroke-width="1.4" stroke-opacity="0.93"/>
<text x="60.90" y="151.90" class="lg" style="font-size:6.05px">BiLSTM</text>
<line x1="42.10" x2="55.50" y1="159.90" y2="159.90" stroke="#00eaf5" stroke-width="1.4" stroke-opacity="0.93"/>
<text x="60.90" y="161.90" class="lg" style="font-size:6.05px">BiLSTM-AM</text>
<line x1="42.10" x2="55.50" y1="169.90" y2="169.90" stroke="#2c2cff" stroke-width="1.4" stroke-opacity="0.93"/>
<text x="60.90" y="171.90" class="lg" style="font-size:6.05px">BiLSTM-AM-TR</text>
<rect x="36.5" y="4.9" width="235.0" height="174.6" fill="none" stroke="#444" stroke-width="0.85"/>
<line x1="47.30" x2="47.30" y1="179.5" y2="181.6" stroke="#111" stroke-width="0.75"/>
<text x="47.30" y="189.10" text-anchor="middle" class="tk" style="font-size:6.6px">0</text>
<line x1="96.80" x2="96.80" y1="179.5" y2="181.6" stroke="#111" stroke-width="0.75"/>
<text x="96.80" y="189.10" text-anchor="middle" class="tk" style="font-size:6.6px">500</text>
<line x1="146.30" x2="146.30" y1="179.5" y2="181.6" stroke="#111" stroke-width="0.75"/>
<text x="146.30" y="189.10" text-anchor="middle" class="tk" style="font-size:6.6px">1000</text>
<line x1="195.80" x2="195.80" y1="179.5" y2="181.6" stroke="#111" stroke-width="0.75"/>
<text x="195.80" y="189.10" text-anchor="middle" class="tk" style="font-size:6.6px">1500</text>
<line x1="245.30" x2="245.30" y1="179.5" y2="181.6" stroke="#111" stroke-width="0.75"/>
<text x="245.30" y="189.10" text-anchor="middle" class="tk" style="font-size:6.6px">2000</text>
<line x1="34.4" x2="36.5" y1="171.50" y2="171.50" stroke="#111" stroke-width="0.75"/>
<text x="31.10" y="173.70" text-anchor="end" class="tk" style="font-size:6.6px">0.800</text>
<line x1="34.4" x2="36.5" y1="150.09" y2="150.09" stroke="#111" stroke-width="0.75"/>
<text x="31.10" y="152.29" text-anchor="end" class="tk" style="font-size:6.6px">0.825</text>
<line x1="34.4" x2="36.5" y1="128.68" y2="128.68" stroke="#111" stroke-width="0.75"/>
<text x="31.10" y="130.88" text-anchor="end" class="tk" style="font-size:6.6px">0.850</text>
<line x1="34.4" x2="36.5" y1="107.27" y2="107.27" stroke="#111" stroke-width="0.75"/>
<text x="31.10" y="109.47" text-anchor="end" class="tk" style="font-size:6.6px">0.875</text>
<line x1="34.4" x2="36.5" y1="85.86" y2="85.86" stroke="#111" stroke-width="0.75"/>
<text x="31.10" y="88.06" text-anchor="end" class="tk" style="font-size:6.6px">0.900</text>
<line x1="34.4" x2="36.5" y1="64.45" y2="64.45" stroke="#111" stroke-width="0.75"/>
<text x="31.10" y="66.65" text-anchor="end" class="tk" style="font-size:6.6px">0.925</text>
<line x1="34.4" x2="36.5" y1="43.04" y2="43.04" stroke="#111" stroke-width="0.75"/>
<text x="31.10" y="45.24" text-anchor="end" class="tk" style="font-size:6.6px">0.950</text>
<line x1="34.4" x2="36.5" y1="21.63" y2="21.63" stroke="#111" stroke-width="0.75"/>
<text x="31.10" y="23.83" text-anchor="end" class="tk" style="font-size:6.6px">0.975</text>
<text x="153.9" y="199.8" text-anchor="middle" class="ax">Cycle</text>
<text transform="translate(11.7,92.6) rotate(-90)" text-anchor="middle" class="ax">SOH</text>
<g fill="none" stroke-linejoin="round" stroke-linecap="square">
<path d="M327.00,16.73 L327.98,16.86 L328.97,17.00 L329.95,17.13 L330.93,17.27 L331.91,17.41 L332.90,17.55 L333.88,17.69 L334.86,17.83 L335.84,17.97 L336.83,18.11 L337.81,18.25 L338.79,18.40 L339.78,18.54 L340.76,18.68 L341.74,18.83 L342.72,18.98 L343.71,19.12 L344.69,19.27 L345.67,19.42 L346.65,19.57 L347.64,19.72 L348.62,19.87 L349.60,20.02 L350.58,20.18 L351.57,20.33 L352.55,20.48 L353.53,20.64 L354.52,20.80 L355.50,20.95 L356.48,21.11 L357.46,21.27 L358.45,21.43 L359.43,21.59 L360.41,21.75 L361.39,21.92 L362.38,22.08 L363.36,22.25 L364.34,22.41 L365.33,22.58 L366.31,22.75 L367.29,22.92 L368.27,23.09 L369.26,23.26 L370.24,23.44 L371.22,23.61 L372.20,23.78 L373.19,23.96 L374.17,24.14 L375.15,24.32 L376.14,24.50 L377.12,24.68 L378.10,24.86 L379.08,25.04 L380.07,25.23 L381.05,25.41 L382.03,25.60 L383.01,25.79 L384.00,25.98 L384.98,26.17 L385.96,26.36 L386.94,26.56 L387.93,26.75 L388.91,26.95 L389.89,27.15 L390.88,27.34 L391.86,27.54 L392.84,27.75 L393.82,27.95 L394.81,28.15 L395.79,28.36 L396.77,28.57 L397.75,28.78 L398.74,28.99 L399.72,29.20 L400.70,29.41 L401.69,29.63 L402.67,29.84 L403.65,30.06 L404.63,30.28 L405.62,30.50 L406.60,30.72 L407.58,30.95 L408.56,31.17 L409.55,31.40 L410.53,31.63 L411.51,31.86 L412.50,32.09 L413.48,32.32 L414.46,32.56 L415.44,32.79 L416.43,33.03 L417.41,33.27 L418.39,33.51 L419.37,33.76 L420.36,34.00 L421.34,34.25 L422.32,34.50 L423.30,34.75 L424.29,35.00 L425.27,35.26 L426.25,35.51 L427.24,35.77 L428.22,36.03 L429.20,36.29 L430.18,36.55 L431.17,36.82 L432.15,37.08 L433.13,37.35 L434.11,37.62 L435.10,37.89 L436.08,38.17 L437.06,38.44 L438.05,38.72 L439.03,39.00 L440.01,39.28 L440.99,39.57 L441.98,39.85 L442.96,40.14 L443.94,40.43 L444.92,40.72 L445.91,41.02 L446.89,41.31 L447.87,41.61 L448.85,41.91 L449.84,42.21 L450.82,42.51 L451.80,42.82 L452.79,43.13 L453.77,43.44 L454.75,43.75 L455.73,44.06 L456.72,44.38 L457.70,44.70 L458.68,45.02 L459.66,45.34 L460.65,45.67 L461.63,46.00 L462.61,46.33 L463.60,46.66 L464.58,46.99 L465.56,47.33 L466.54,47.67 L467.53,48.02 L468.51,48.37 L469.49,48.73 L470.47,49.10 L471.46,49.47 L472.44,49.85 L473.42,50.24 L474.41,50.64 L475.39,51.05 L476.37,51.47 L477.35,51.90 L478.34,52.34 L479.32,52.79 L480.30,53.26 L481.28,53.75 L482.27,54.24 L483.25,54.75 L484.23,55.28 L485.21,55.83 L486.20,56.39 L487.18,56.97 L488.16,57.56 L489.15,58.18 L490.13,58.82 L491.11,59.47 L492.09,60.15 L493.08,60.85 L494.06,61.57 L495.04,62.32 L496.02,63.08 L497.01,63.88 L497.99,64.70 L498.97,65.55 L499.96,66.46 L500.94,67.44 L501.92,68.51 L502.90,69.69 L503.89,70.98 L504.87,72.42 L505.85,74.01 L506.83,75.78 L507.82,77.72 L508.80,79.83 L509.78,82.10 L510.77,84.52 L511.75,87.08 L512.73,89.78 L513.71,92.61 L514.70,95.56 L515.68,98.62 L516.66,101.79 L517.64,105.05 L518.63,108.42 L519.61,111.87 L520.59,115.40 L521.57,119.00 L522.56,122.68 L523.54,126.41 L524.52,130.19 L525.51,134.02 L526.49,137.90 L527.47,141.80 L528.45,145.73 L529.44,149.68 L530.42,153.65 L531.40,157.62 L532.38,161.59 L533.37,165.55 L534.35,169.50" stroke="#2b2b2b" stroke-width="1.55"/>
<path d="M327.00,18.01 L327.98,18.16 L328.96,18.30 L329.94,18.44 L330.92,18.59 L331.91,18.74 L332.89,18.88 L333.87,19.03 L334.85,19.18 L335.83,19.34 L336.81,19.49 L337.79,19.64 L338.77,19.80 L339.76,19.96 L340.74,20.12 L341.72,20.27 L342.70,20.44 L343.68,20.60 L344.66,20.76 L345.64,20.92 L346.62,21.09 L347.60,21.26 L348.59,21.42 L349.57,21.59 L350.55,21.76 L351.53,21.93 L352.51,22.11 L353.49,22.28 L354.47,22.45 L355.45,22.63 L356.43,22.81 L357.42,22.98 L358.40,23.16 L359.38,23.34 L360.36,23.52 L361.34,23.70 L362.32,23.89 L363.30,24.07 L364.28,24.25 L365.27,24.44 L366.25,24.63 L367.23,24.81 L368.21,25.00 L369.19,25.19 L370.17,25.38 L371.15,25.57 L372.13,25.76 L373.11,25.96 L374.10,26.15 L375.08,26.35 L376.06,26.54 L377.04,26.74 L378.02,26.93 L379.00,27.13 L379.98,27.33 L380.96,27.53 L381.95,27.73 L382.93,27.93 L383.91,28.13 L384.89,28.34 L385.87,28.54 L386.85,28.74 L387.83,28.95 L388.81,29.15 L389.79,29.36 L390.78,29.57 L391.76,29.77 L392.74,29.98 L393.72,30.19 L394.70,30.40 L395.68,30.61 L396.66,30.82 L397.64,31.03 L398.62,31.25 L399.61,31.46 L400.59,31.67 L401.57,31.89 L402.55,32.10 L403.53,32.32 L404.51,32.53 L405.49,32.75 L406.47,32.96 L407.46,33.18 L408.44,33.40 L409.42,33.62 L410.40,33.84 L411.38,34.05 L412.36,34.27 L413.34,34.49 L414.32,34.71 L415.30,34.94 L416.29,35.16 L417.27,35.38 L418.25,35.60 L419.23,35.82 L420.21,36.05 L421.19,36.27 L422.17,36.49 L423.15,36.72 L424.13,36.94 L425.12,37.17 L426.10,37.39 L427.08,37.62 L428.06,37.84 L429.04,38.07 L430.02,38.29 L431.00,38.52 L431.98,38.75 L432.97,38.97 L433.95,39.20 L434.93,39.43 L435.91,39.66 L436.89,39.88 L437.87,40.11 L438.85,40.34 L439.83,40.57 L440.81,40.80 L441.80,41.03 L442.78,41.25 L443.76,41.48 L444.74,41.71 L445.72,41.94 L446.70,42.17 L447.68,42.40 L448.66,42.63 L449.65,42.86 L450.63,43.09 L451.61,43.32 L452.59,43.55 L453.57,43.78 L454.55,44.01 L455.53,44.24 L456.51,44.47 L457.49,44.70 L458.48,44.93 L459.46,45.16 L460.44,45.39 L461.42,45.62 L462.40,45.85 L463.38,46.08 L464.36,46.30 L465.34,46.53 L466.32,46.76 L467.31,46.99 L468.29,47.22 L469.27,47.45 L470.25,47.68 L471.23,47.91 L472.21,48.14 L473.19,48.36 L474.17,48.59 L475.16,48.82 L476.14,49.05 L477.12,49.27 L478.10,49.50 L479.08,49.74 L480.06,49.97 L481.04,50.21 L482.02,50.45 L483.00,50.71 L483.99,50.96 L484.97,51.23 L485.95,51.50 L486.93,51.79 L487.91,52.09 L488.89,52.39 L489.87,52.71 L490.85,53.05 L491.84,53.40 L492.82,53.76 L493.80,54.15 L494.78,54.55 L495.76,54.97 L496.74,55.41 L497.72,55.86 L498.70,56.35 L499.68,56.85 L500.67,57.38 L501.65,57.93 L502.63,58.51 L503.61,59.11 L504.59,59.74 L505.57,60.40 L506.55,61.09 L507.53,61.80 L508.51,62.54 L509.50,63.30 L510.48,64.09 L511.46,64.91 L512.44,65.75 L513.42,66.61 L514.40,67.50 L515.38,68.40 L516.36,69.34 L517.35,70.29 L518.33,71.26 L519.31,72.25 L520.29,73.27 L521.27,74.30 L522.25,75.36 L523.23,76.43 L524.21,77.52 L525.19,78.62 L526.18,79.75 L527.16,80.89 L528.14,82.05 L529.12,83.22 L530.10,84.41 L531.08,85.61 L532.06,86.83 L533.04,88.06 L534.02,89.30" stroke="#ffa714" stroke-width="1.55"/>
<path d="M327.00,17.18 L327.98,17.34 L328.96,17.51 L329.94,17.67 L330.92,17.83 L331.91,17.99 L332.89,18.16 L333.87,18.32 L334.85,18.49 L335.83,18.65 L336.81,18.82 L337.79,18.98 L338.77,19.15 L339.76,19.31 L340.74,19.48 L341.72,19.64 L342.70,19.81 L343.68,19.98 L344.66,20.14 L345.64,20.31 L346.62,20.48 L347.60,20.65 L348.59,20.82 L349.57,20.99 L350.55,21.16 L351.53,21.33 L352.51,21.50 L353.49,21.67 L354.47,21.84 L355.45,22.01 L356.43,22.19 L357.42,22.36 L358.40,22.53 L359.38,22.71 L360.36,22.88 L361.34,23.05 L362.32,23.23 L363.30,23.41 L364.28,23.58 L365.27,23.76 L366.25,23.94 L367.23,24.11 L368.21,24.29 L369.19,24.47 L370.17,24.65 L371.15,24.83 L372.13,25.01 L373.11,25.19 L374.10,25.37 L375.08,25.55 L376.06,25.74 L377.04,25.92 L378.02,26.10 L379.00,26.29 L379.98,26.47 L380.96,26.66 L381.95,26.84 L382.93,27.03 L383.91,27.22 L384.89,27.41 L385.87,27.59 L386.85,27.78 L387.83,27.97 L388.81,28.16 L389.79,28.36 L390.78,28.55 L391.76,28.74 L392.74,28.93 L393.72,29.13 L394.70,29.32 L395.68,29.52 L396.66,29.71 L397.64,29.91 L398.62,30.11 L399.61,30.30 L400.59,30.50 L401.57,30.70 L402.55,30.90 L403.53,31.10 L404.51,31.30 L405.49,31.51 L406.47,31.71 L407.46,31.91 L408.44,32.12 L409.42,32.32 L410.40,32.53 L411.38,32.74 L412.36,32.94 L413.34,33.15 L414.32,33.36 L415.30,33.57 L416.29,33.78 L417.27,33.99 L418.25,34.21 L419.23,34.42 L420.21,34.63 L421.19,34.85 L422.17,35.07 L423.15,35.28 L424.13,35.50 L425.12,35.72 L426.10,35.94 L427.08,36.16 L428.06,36.38 L429.04,36.60 L430.02,36.82 L431.00,37.05 L431.98,37.27 L432.97,37.50 L433.95,37.72 L434.93,37.95 L435.91,38.18 L436.89,38.41 L437.87,38.64 L438.85,38.87 L439.83,39.10 L440.81,39.34 L441.80,39.57 L442.78,39.81 L443.76,40.04 L444.74,40.28 L445.72,40.52 L446.70,40.76 L447.68,41.00 L448.66,41.24 L449.65,41.48 L450.63,41.72 L451.61,41.97 L452.59,42.21 L453.57,42.46 L454.55,42.71 L455.53,42.96 L456.51,43.20 L457.49,43.46 L458.48,43.71 L459.46,43.96 L460.44,44.21 L461.42,44.47 L462.40,44.72 L463.38,44.98 L464.36,45.24 L465.34,45.50 L466.32,45.76 L467.31,46.02 L468.29,46.28 L469.27,46.55 L470.25,46.81 L471.23,47.08 L472.21,47.35 L473.19,47.61 L474.17,47.88 L475.16,48.15 L476.14,48.43 L477.12,48.70 L478.10,48.97 L479.08,49.25 L480.06,49.53 L481.04,49.80 L482.02,50.08 L483.00,50.36 L483.99,50.64 L484.97,50.93 L485.95,51.21 L486.93,51.50 L487.91,51.78 L488.89,52.07 L489.87,52.36 L490.85,52.65 L491.84,52.94 L492.82,53.24 L493.80,53.53 L494.78,53.83 L495.76,54.12 L496.74,54.42 L497.72,54.73 L498.70,55.03 L499.68,55.33 L500.67,55.64 L501.65,55.95 L502.63,56.26 L503.61,56.57 L504.59,56.89 L505.57,57.21 L506.55,57.53 L507.53,57.85 L508.51,58.17 L509.50,58.50 L510.48,58.83 L511.46,59.17 L512.44,59.50 L513.42,59.84 L514.40,60.18 L515.38,60.52 L516.36,60.87 L517.35,61.22 L518.33,61.57 L519.31,61.93 L520.29,62.29 L521.27,62.65 L522.25,63.02 L523.23,63.39 L524.21,63.76 L525.19,64.14 L526.18,64.52 L527.16,64.91 L528.14,65.29 L529.12,65.69 L530.10,66.08 L531.08,66.48 L532.06,66.89 L533.04,67.30 L534.02,67.71" stroke="#ff2b2b" stroke-width="1.55"/>
<path d="M327.00,15.80 L327.98,15.91 L328.96,16.01 L329.94,16.12 L330.92,16.23 L331.91,16.34 L332.89,16.45 L333.87,16.57 L334.85,16.68 L335.83,16.80 L336.81,16.93 L337.79,17.05 L338.77,17.17 L339.76,17.30 L340.74,17.43 L341.72,17.56 L342.70,17.70 L343.68,17.83 L344.66,17.97 L345.64,18.11 L346.62,18.25 L347.60,18.39 L348.59,18.53 L349.57,18.68 L350.55,18.83 L351.53,18.98 L352.51,19.13 L353.49,19.28 L354.47,19.44 L355.45,19.59 L356.43,19.75 L357.42,19.91 L358.40,20.07 L359.38,20.23 L360.36,20.40 L361.34,20.57 L362.32,20.73 L363.30,20.90 L364.28,21.08 L365.27,21.25 L366.25,21.42 L367.23,21.60 L368.21,21.78 L369.19,21.95 L370.17,22.14 L371.15,22.32 L372.13,22.50 L373.11,22.69 L374.10,22.87 L375.08,23.06 L376.06,23.25 L377.04,23.44 L378.02,23.63 L379.00,23.82 L379.98,24.02 L380.96,24.21 L381.95,24.41 L382.93,24.61 L383.91,24.81 L384.89,25.01 L385.87,25.21 L386.85,25.42 L387.83,25.62 L388.81,25.83 L389.79,26.03 L390.78,26.24 L391.76,26.45 L392.74,26.66 L393.72,26.87 L394.70,27.09 L395.68,27.30 L396.66,27.52 L397.64,27.73 L398.62,27.95 L399.61,28.17 L400.59,28.39 L401.57,28.61 L402.55,28.83 L403.53,29.05 L404.51,29.27 L405.49,29.50 L406.47,29.72 L407.46,29.95 L408.44,30.18 L409.42,30.41 L410.40,30.63 L411.38,30.86 L412.36,31.09 L413.34,31.33 L414.32,31.56 L415.30,31.79 L416.29,32.02 L417.27,32.26 L418.25,32.49 L419.23,32.73 L420.21,32.97 L421.19,33.20 L422.17,33.44 L423.15,33.68 L424.13,33.92 L425.12,34.16 L426.10,34.40 L427.08,34.64 L428.06,34.89 L429.04,35.13 L430.02,35.37 L431.00,35.62 L431.98,35.86 L432.97,36.11 L433.95,36.35 L434.93,36.60 L435.91,36.84 L436.89,37.09 L437.87,37.34 L438.85,37.59 L439.83,37.83 L440.81,38.08 L441.80,38.33 L442.78,38.58 L443.76,38.83 L444.74,39.08 L445.72,39.33 L446.70,39.58 L447.68,39.83 L448.66,40.09 L449.65,40.34 L450.63,40.59 L451.61,40.84 L452.59,41.09 L453.57,41.35 L454.55,41.60 L455.53,41.85 L456.51,42.11 L457.49,42.36 L458.48,42.61 L459.46,42.87 L460.44,43.12 L461.42,43.38 L462.40,43.63 L463.38,43.88 L464.36,44.14 L465.34,44.39 L466.32,44.65 L467.31,44.90 L468.29,45.16 L469.27,45.41 L470.25,45.67 L471.23,45.92 L472.21,46.17 L473.19,46.43 L474.17,46.68 L475.16,46.94 L476.14,47.19 L477.12,47.45 L478.10,47.70 L479.08,47.96 L480.06,48.23 L481.04,48.50 L482.02,48.77 L483.00,49.06 L483.99,49.35 L484.97,49.66 L485.95,49.97 L486.93,50.30 L487.91,50.65 L488.89,51.01 L489.87,51.38 L490.85,51.78 L491.84,52.19 L492.82,52.63 L493.80,53.08 L494.78,53.56 L495.76,54.07 L496.74,54.60 L497.72,55.15 L498.70,55.74 L499.68,56.35 L500.67,57.00 L501.65,57.68 L502.63,58.40 L503.61,59.15 L504.59,59.94 L505.57,60.78 L506.55,61.65 L507.53,62.57 L508.51,63.53 L509.50,64.55 L510.48,65.61 L511.46,66.72 L512.44,67.88 L513.42,69.10 L514.40,70.38 L515.38,71.72 L516.36,73.11 L517.35,74.56 L518.33,76.08 L519.31,77.66 L520.29,79.30 L521.27,80.99 L522.25,82.74 L523.23,84.53 L524.21,86.37 L525.19,88.25 L526.18,90.17 L527.16,92.12 L528.14,94.11 L529.12,96.13 L530.10,98.17 L531.08,100.24 L532.06,102.32 L533.04,104.42 L534.02,106.54" stroke="#0c9526" stroke-width="1.55"/>
<path d="M327.00,15.25 L327.98,15.35 L328.96,15.45 L329.94,15.55 L330.92,15.66 L331.91,15.76 L332.89,15.87 L333.87,15.98 L334.85,16.10 L335.83,16.21 L336.81,16.33 L337.79,16.45 L338.77,16.57 L339.76,16.69 L340.74,16.82 L341.72,16.94 L342.70,17.07 L343.68,17.20 L344.66,17.34 L345.64,17.47 L346.62,17.61 L347.60,17.75 L348.59,17.89 L349.57,18.03 L350.55,18.18 L351.53,18.32 L352.51,18.47 L353.49,18.62 L354.47,18.77 L355.45,18.92 L356.43,19.08 L357.42,19.24 L358.40,19.40 L359.38,19.56 L360.36,19.72 L361.34,19.88 L362.32,20.05 L363.30,20.21 L364.28,20.38 L365.27,20.55 L366.25,20.72 L367.23,20.90 L368.21,21.07 L369.19,21.25 L370.17,21.43 L371.15,21.61 L372.13,21.79 L373.11,21.97 L374.10,22.15 L375.08,22.34 L376.06,22.53 L377.04,22.72 L378.02,22.91 L379.00,23.10 L379.98,23.29 L380.96,23.48 L381.95,23.68 L382.93,23.88 L383.91,24.07 L384.89,24.27 L385.87,24.47 L386.85,24.68 L387.83,24.88 L388.81,25.08 L389.79,25.29 L390.78,25.50 L391.76,25.71 L392.74,25.92 L393.72,26.13 L394.70,26.34 L395.68,26.55 L396.66,26.76 L397.64,26.98 L398.62,27.20 L399.61,27.41 L400.59,27.63 L401.57,27.85 L402.55,28.07 L403.53,28.29 L404.51,28.52 L405.49,28.74 L406.47,28.96 L407.46,29.19 L408.44,29.42 L409.42,29.64 L410.40,29.87 L411.38,30.10 L412.36,30.33 L413.34,30.56 L414.32,30.80 L415.30,31.03 L416.29,31.26 L417.27,31.50 L418.25,31.73 L419.23,31.97 L420.21,32.21 L421.19,32.44 L422.17,32.68 L423.15,32.92 L424.13,33.16 L425.12,33.40 L426.10,33.64 L427.08,33.88 L428.06,34.13 L429.04,34.37 L430.02,34.61 L431.00,34.86 L431.98,35.10 L432.97,35.35 L433.95,35.59 L434.93,35.84 L435.91,36.09 L436.89,36.34 L437.87,36.59 L438.85,36.83 L439.83,37.08 L440.81,37.33 L441.80,37.58 L442.78,37.83 L443.76,38.08 L444.74,38.34 L445.72,38.59 L446.70,38.84 L447.68,39.09 L448.66,39.35 L449.65,39.60 L450.63,39.85 L451.61,40.11 L452.59,40.36 L453.57,40.62 L454.55,40.87 L455.53,41.12 L456.51,41.38 L457.49,41.63 L458.48,41.89 L459.46,42.15 L460.44,42.40 L461.42,42.66 L462.40,42.91 L463.38,43.17 L464.36,43.43 L465.34,43.68 L466.32,43.94 L467.31,44.20 L468.29,44.45 L469.27,44.71 L470.25,44.97 L471.23,45.22 L472.21,45.48 L473.19,45.74 L474.17,45.99 L475.16,46.25 L476.14,46.51 L477.12,46.76 L478.10,47.02 L479.08,47.29 L480.06,47.55 L481.04,47.83 L482.02,48.11 L483.00,48.40 L483.99,48.71 L484.97,49.02 L485.95,49.35 L486.93,49.70 L487.91,50.06 L488.89,50.44 L489.87,50.83 L490.85,51.25 L491.84,51.70 L492.82,52.16 L493.80,52.65 L494.78,53.17 L495.76,53.72 L496.74,54.29 L497.72,54.90 L498.70,55.54 L499.68,56.21 L500.67,56.92 L501.65,57.66 L502.63,58.44 L503.61,59.27 L504.59,60.13 L505.57,61.04 L506.55,61.99 L507.53,62.99 L508.51,64.04 L509.50,65.15 L510.48,66.32 L511.46,67.55 L512.44,68.85 L513.42,70.21 L514.40,71.65 L515.38,73.17 L516.36,74.76 L517.35,76.44 L518.33,78.20 L519.31,80.05 L520.29,82.00 L521.27,84.04 L522.25,86.18 L523.23,88.43 L524.21,90.78 L525.19,93.20 L526.18,95.64 L527.16,98.04 L528.14,100.34 L529.12,102.49 L530.10,104.43 L531.08,106.10 L532.06,107.44 L533.04,108.77 L534.02,111.59" stroke="#00eaf5" stroke-width="1.55"/>
<path d="M327.00,16.91 L327.98,17.06 L328.96,17.21 L329.94,17.36 L330.92,17.51 L331.91,17.66 L332.89,17.81 L333.87,17.96 L334.85,18.11 L335.83,18.26 L336.81,18.41 L337.79,18.57 L338.77,18.72 L339.76,18.87 L340.74,19.03 L341.72,19.18 L342.70,19.34 L343.68,19.49 L344.66,19.65 L345.64,19.81 L346.62,19.96 L347.60,20.12 L348.59,20.28 L349.57,20.44 L350.55,20.60 L351.53,20.76 L352.51,20.92 L353.49,21.08 L354.47,21.24 L355.45,21.40 L356.43,21.56 L357.42,21.72 L358.40,21.89 L359.38,22.05 L360.36,22.22 L361.34,22.38 L362.32,22.55 L363.30,22.72 L364.28,22.89 L365.27,23.05 L366.25,23.22 L367.23,23.39 L368.21,23.56 L369.19,23.73 L370.17,23.91 L371.15,24.08 L372.13,24.25 L373.11,24.43 L374.10,24.60 L375.08,24.78 L376.06,24.96 L377.04,25.13 L378.02,25.31 L379.00,25.49 L379.98,25.67 L380.96,25.85 L381.95,26.03 L382.93,26.22 L383.91,26.40 L384.89,26.59 L385.87,26.77 L386.85,26.96 L387.83,27.15 L388.81,27.33 L389.79,27.52 L390.78,27.71 L391.76,27.90 L392.74,28.10 L393.72,28.29 L394.70,28.48 L395.68,28.68 L396.66,28.88 L397.64,29.07 L398.62,29.27 L399.61,29.47 L400.59,29.67 L401.57,29.87 L402.55,30.08 L403.53,30.28 L404.51,30.49 L405.49,30.69 L406.47,30.90 L407.46,31.11 L408.44,31.32 L409.42,31.53 L410.40,31.74 L411.38,31.95 L412.36,32.17 L413.34,32.38 L414.32,32.60 L415.30,32.82 L416.29,33.03 L417.27,33.25 L418.25,33.48 L419.23,33.70 L420.21,33.92 L421.19,34.15 L422.17,34.38 L423.15,34.60 L424.13,34.83 L425.12,35.06 L426.10,35.29 L427.08,35.53 L428.06,35.76 L429.04,36.00 L430.02,36.24 L431.00,36.48 L431.98,36.72 L432.97,36.96 L433.95,37.20 L434.93,37.44 L435.91,37.69 L436.89,37.94 L437.87,38.19 L438.85,38.44 L439.83,38.69 L440.81,38.94 L441.80,39.20 L442.78,39.45 L443.76,39.71 L444.74,39.97 L445.72,40.23 L446.70,40.49 L447.68,40.76 L448.66,41.02 L449.65,41.29 L450.63,41.56 L451.61,41.83 L452.59,42.10 L453.57,42.37 L454.55,42.65 L455.53,42.93 L456.51,43.20 L457.49,43.49 L458.48,43.77 L459.46,44.05 L460.44,44.34 L461.42,44.62 L462.40,44.91 L463.38,45.20 L464.36,45.49 L465.34,45.79 L466.32,46.08 L467.31,46.38 L468.29,46.68 L469.27,46.98 L470.25,47.28 L471.23,47.59 L472.21,47.89 L473.19,48.20 L474.17,48.51 L475.16,48.82 L476.14,49.14 L477.12,49.45 L478.10,49.77 L479.08,50.09 L480.06,50.42 L481.04,50.75 L482.02,51.08 L483.00,51.41 L483.99,51.75 L484.97,52.10 L485.95,52.45 L486.93,52.80 L487.91,53.17 L488.89,53.53 L489.87,53.91 L490.85,54.29 L491.84,54.68 L492.82,55.08 L493.80,55.48 L494.78,55.89 L495.76,56.31 L496.74,56.75 L497.72,57.19 L498.70,57.64 L499.68,58.12 L500.67,58.64 L501.65,59.21 L502.63,59.84 L503.61,60.54 L504.59,61.32 L505.57,62.20 L506.55,63.17 L507.53,64.24 L508.51,65.40 L509.50,66.67 L510.48,68.02 L511.46,69.48 L512.44,71.03 L513.42,72.68 L514.40,74.42 L515.38,76.26 L516.36,78.16 L517.35,80.10 L518.33,82.08 L519.31,84.08 L520.29,86.12 L521.27,88.17 L522.25,90.25 L523.23,92.34 L524.21,94.44 L525.19,96.55 L526.18,98.66 L527.16,100.77 L528.14,102.87 L529.12,104.96 L530.10,107.03 L531.08,109.09 L532.06,111.12 L533.04,113.13 L534.02,115.10" stroke="#2c2cff" stroke-width="1.55"/>
</g>
<rect x="319.4" y="114.1" width="68.7" height="59.5" rx="1.2" fill="#fff" fill-opacity="0.8" stroke="#d2d2d2" stroke-width="0.6"/>
<line x1="321.80" x2="334.60" y1="119.10" y2="119.10" stroke="#1c1c1c" stroke-width="1.4" stroke-opacity="0.93"/>
<text x="340.10" y="121.70" class="lg" style="font-size:5.85px">True value</text>
<line x1="321.80" x2="334.60" y1="128.80" y2="128.80" stroke="#ffa714" stroke-width="1.4" stroke-opacity="0.93"/>
<text x="340.10" y="130.80" class="lg" style="font-size:5.85px">LSTM</text>
<line x1="321.80" x2="334.60" y1="138.50" y2="138.50" stroke="#ff2b2b" stroke-width="1.4" stroke-opacity="0.93"/>
<text x="340.10" y="140.50" class="lg" style="font-size:5.85px">LSTM-AM</text>
<line x1="321.80" x2="334.60" y1="148.20" y2="148.20" stroke="#0c9526" stroke-width="1.4" stroke-opacity="0.93"/>
<text x="340.10" y="150.20" class="lg" style="font-size:5.85px">BiLSTM</text>
<line x1="321.80" x2="334.60" y1="157.90" y2="157.90" stroke="#00eaf5" stroke-width="1.4" stroke-opacity="0.93"/>
<text x="340.10" y="159.90" class="lg" style="font-size:5.85px">BiLSTM-AM</text>
<line x1="321.80" x2="334.60" y1="167.60" y2="167.60" stroke="#2c2cff" stroke-width="1.4" stroke-opacity="0.93"/>
<text x="340.10" y="169.60" class="lg" style="font-size:5.85px">BiLSTM-AM-TR</text>
<rect x="316.9" y="7.6" width="227.89999999999998" height="169.1" fill="none" stroke="#444" stroke-width="0.85"/>
<line x1="327.00" x2="327.00" y1="176.7" y2="178.79999999999998" stroke="#111" stroke-width="0.75"/>
<text x="327.00" y="186.50" text-anchor="middle" class="tk" style="font-size:6.4px">0</text>
<line x1="359.50" x2="359.50" y1="176.7" y2="178.79999999999998" stroke="#111" stroke-width="0.75"/>
<text x="359.50" y="186.50" text-anchor="middle" class="tk" style="font-size:6.4px">200</text>
<line x1="392.00" x2="392.00" y1="176.7" y2="178.79999999999998" stroke="#111" stroke-width="0.75"/>
<text x="392.00" y="186.50" text-anchor="middle" class="tk" style="font-size:6.4px">400</text>
<line x1="424.50" x2="424.50" y1="176.7" y2="178.79999999999998" stroke="#111" stroke-width="0.75"/>
<text x="424.50" y="186.50" text-anchor="middle" class="tk" style="font-size:6.4px">600</text>
<line x1="457.00" x2="457.00" y1="176.7" y2="178.79999999999998" stroke="#111" stroke-width="0.75"/>
<text x="457.00" y="186.50" text-anchor="middle" class="tk" style="font-size:6.4px">800</text>
<line x1="489.50" x2="489.50" y1="176.7" y2="178.79999999999998" stroke="#111" stroke-width="0.75"/>
<text x="489.50" y="186.50" text-anchor="middle" class="tk" style="font-size:6.4px">1000</text>
<line x1="522.00" x2="522.00" y1="176.7" y2="178.79999999999998" stroke="#111" stroke-width="0.75"/>
<text x="522.00" y="186.50" text-anchor="middle" class="tk" style="font-size:6.4px">1200</text>
<line x1="314.79999999999995" x2="316.9" y1="169.50" y2="169.50" stroke="#111" stroke-width="0.75"/>
<text x="311.50" y="171.70" text-anchor="end" class="tk" style="font-size:6.4px">0.800</text>
<line x1="314.79999999999995" x2="316.9" y1="146.45" y2="146.45" stroke="#111" stroke-width="0.75"/>
<text x="311.50" y="148.65" text-anchor="end" class="tk" style="font-size:6.4px">0.825</text>
<line x1="314.79999999999995" x2="316.9" y1="123.40" y2="123.40" stroke="#111" stroke-width="0.75"/>
<text x="311.50" y="125.60" text-anchor="end" class="tk" style="font-size:6.4px">0.850</text>
<line x1="314.79999999999995" x2="316.9" y1="100.35" y2="100.35" stroke="#111" stroke-width="0.75"/>
<text x="311.50" y="102.55" text-anchor="end" class="tk" style="font-size:6.4px">0.875</text>
<line x1="314.79999999999995" x2="316.9" y1="77.30" y2="77.30" stroke="#111" stroke-width="0.75"/>
<text x="311.50" y="79.50" text-anchor="end" class="tk" style="font-size:6.4px">0.900</text>
<line x1="314.79999999999995" x2="316.9" y1="54.25" y2="54.25" stroke="#111" stroke-width="0.75"/>
<text x="311.50" y="56.45" text-anchor="end" class="tk" style="font-size:6.4px">0.925</text>
<line x1="314.79999999999995" x2="316.9" y1="31.20" y2="31.20" stroke="#111" stroke-width="0.75"/>
<text x="311.50" y="33.40" text-anchor="end" class="tk" style="font-size:6.4px">0.950</text>
<line x1="314.79999999999995" x2="316.9" y1="8.15" y2="8.15" stroke="#111" stroke-width="0.75"/>
<text x="311.50" y="10.35" text-anchor="end" class="tk" style="font-size:6.4px">0.975</text>
<text x="430.3" y="196.8" text-anchor="middle" class="ax">Cycle</text>
<text transform="translate(292.8,92.9) rotate(-90)" text-anchor="middle" class="ax">SOH</text>
<g fill="none" stroke-linejoin="round" stroke-linecap="square">
<path d="M180.90,229.96 L182.41,229.12 L184.68,228.84 L184.68,228.84 L186.22,228.96 L187.75,229.09 L189.29,229.22 L190.82,229.36 L192.36,229.50 L193.89,229.65 L195.42,229.81 L196.96,229.96 L198.49,230.13 L200.03,230.30 L201.56,230.47 L203.09,230.65 L204.63,230.83 L206.16,231.02 L207.70,231.21 L209.23,231.40 L210.77,231.60 L212.30,231.81 L213.83,232.01 L215.37,232.23 L216.90,232.44 L218.44,232.66 L219.97,232.89 L221.51,233.11 L223.04,233.35 L224.57,233.58 L226.11,233.82 L227.64,234.06 L229.18,234.31 L230.71,234.56 L232.24,234.81 L233.78,235.06 L235.31,235.32 L236.85,235.59 L238.38,235.85 L239.92,236.12 L241.45,236.39 L242.98,236.66 L244.52,236.94 L246.05,237.22 L247.59,237.50 L249.12,237.79 L250.66,238.07 L252.19,238.36 L253.72,238.65 L255.26,238.95 L256.79,239.24 L258.33,239.54 L259.86,239.84 L261.39,240.14 L262.93,240.45 L264.46,240.75 L266.00,241.06 L267.53,241.37 L269.07,241.68 L270.60,242.00 L272.13,242.31 L273.67,242.63 L275.20,242.94 L276.74,243.26 L278.27,243.58 L279.81,243.90 L281.34,244.23 L282.87,244.56 L284.41,244.89 L285.94,245.22 L287.48,245.56 L289.01,245.91 L290.54,246.27 L292.08,246.64 L293.61,247.01 L295.15,247.40 L296.68,247.80 L298.22,248.21 L299.75,248.64 L301.28,249.08 L302.82,249.53 L304.35,250.01 L305.89,250.50 L307.42,251.01 L308.96,251.54 L310.49,252.09 L312.02,252.66 L313.56,253.25 L315.09,253.87 L316.63,254.52 L318.16,255.19 L319.69,255.88 L321.23,256.61 L322.76,257.36 L324.30,258.14 L325.83,258.95 L327.37,259.80 L328.90,260.67 L330.43,261.58 L331.97,262.53 L333.50,263.51 L335.04,264.52 L336.57,265.57 L338.11,266.67 L339.64,267.80 L341.17,268.97 L342.71,270.18 L344.24,271.45 L345.78,272.78 L347.31,274.17 L348.84,275.65 L350.38,277.21 L351.91,278.87 L353.45,280.63 L354.98,282.51 L356.52,284.52 L358.05,286.66 L359.58,288.94 L361.12,291.38 L362.65,293.98 L364.19,296.75 L365.72,299.70 L367.26,302.84 L368.79,306.17 L370.32,309.72 L371.86,313.46 L373.39,317.41 L374.93,321.55 L376.46,325.90 L377.99,330.43 L379.53,335.17 L381.06,340.09 L382.60,345.20 L384.13,350.49 L385.67,355.98 L387.20,361.64 L388.73,367.49 L390.27,373.52 L391.80,379.72 L393.34,386.10" stroke="#2b2b2b" stroke-width="1.55"/>
<path d="M180.90,230.14 L182.41,229.30 L184.68,229.02 L184.68,229.01 L186.21,229.17 L187.73,229.33 L189.26,229.50 L190.78,229.66 L192.31,229.83 L193.83,230.00 L195.36,230.17 L196.88,230.34 L198.41,230.51 L199.93,230.68 L201.46,230.85 L202.98,231.03 L204.51,231.21 L206.03,231.38 L207.56,231.56 L209.08,231.75 L210.61,231.93 L212.13,232.11 L213.66,232.30 L215.18,232.49 L216.71,232.68 L218.23,232.88 L219.76,233.07 L221.28,233.27 L222.81,233.47 L224.33,233.67 L225.86,233.88 L227.38,234.08 L228.91,234.29 L230.43,234.50 L231.95,234.72 L233.48,234.94 L235.00,235.16 L236.53,235.38 L238.05,235.61 L239.58,235.84 L241.10,236.07 L242.63,236.31 L244.15,236.55 L245.68,236.79 L247.20,237.04 L248.73,237.28 L250.25,237.54 L251.78,237.79 L253.30,238.05 L254.83,238.32 L256.35,238.59 L257.88,238.86 L259.40,239.13 L260.93,239.41 L262.45,239.70 L263.98,239.98 L265.50,240.28 L267.03,240.57 L268.55,240.87 L270.08,241.18 L271.60,241.49 L273.13,241.80 L274.65,242.12 L276.18,242.44 L277.70,242.77 L279.23,243.10 L280.75,243.44 L282.27,243.78 L283.80,244.13 L285.32,244.48 L286.85,244.84 L288.37,245.20 L289.90,245.57 L291.42,245.95 L292.95,246.33 L294.47,246.71 L296.00,247.10 L297.52,247.50 L299.05,247.90 L300.57,248.30 L302.10,248.72 L303.62,249.14 L305.15,249.56 L306.67,249.99 L308.20,250.43 L309.72,250.87 L311.25,251.32 L312.77,251.78 L314.30,252.24 L315.82,252.71 L317.35,253.18 L318.87,253.66 L320.40,254.15 L321.92,254.65 L323.45,255.15 L324.97,255.66 L326.50,256.17 L328.02,256.70 L329.55,257.23 L331.07,257.77 L332.59,258.32 L334.12,258.87 L335.64,259.44 L337.17,260.01 L338.69,260.59 L340.22,261.18 L341.74,261.78 L343.27,262.39 L344.79,263.01 L346.32,263.64 L347.84,264.28 L349.37,264.93 L350.89,265.60 L352.42,266.30 L353.94,267.03 L355.47,267.79 L356.99,268.61 L358.52,269.48 L360.04,270.41 L361.57,271.42 L363.09,272.50 L364.62,273.66 L366.14,274.92 L367.67,276.27 L369.19,277.73 L370.72,279.29 L372.24,280.95 L373.77,282.70 L375.29,284.51 L376.82,286.39 L378.34,288.33 L379.87,290.32 L381.39,292.33 L382.91,294.38 L384.44,296.44 L385.96,298.50 L387.49,300.57 L389.01,302.61 L390.54,304.64 L392.06,306.60 L393.59,308.36" stroke="#ffa714" stroke-width="1.55"/>
<path d="M180.90,230.14 L182.41,229.30 L184.68,229.02 L184.68,229.01 L186.21,229.15 L187.73,229.29 L189.26,229.43 L190.78,229.58 L192.31,229.74 L193.83,229.89 L195.36,230.05 L196.88,230.22 L198.41,230.39 L199.93,230.56 L201.46,230.74 L202.98,230.92 L204.51,231.10 L206.03,231.29 L207.56,231.48 L209.08,231.67 L210.61,231.87 L212.13,232.07 L213.66,232.27 L215.18,232.48 L216.71,232.69 L218.23,232.91 L219.76,233.12 L221.28,233.34 L222.81,233.57 L224.33,233.79 L225.86,234.03 L227.38,234.26 L228.91,234.49 L230.43,234.73 L231.95,234.98 L233.48,235.22 L235.00,235.47 L236.53,235.72 L238.05,235.97 L239.58,236.23 L241.10,236.49 L242.63,236.75 L244.15,237.02 L245.68,237.28 L247.20,237.55 L248.73,237.83 L250.25,238.10 L251.78,238.38 L253.30,238.66 L254.83,238.94 L256.35,239.22 L257.88,239.51 L259.40,239.80 L260.93,240.09 L262.45,240.38 L263.98,240.68 L265.50,240.98 L267.03,241.28 L268.55,241.58 L270.08,241.88 L271.60,242.19 L273.13,242.49 L274.65,242.80 L276.18,243.12 L277.70,243.43 L279.23,243.74 L280.75,244.06 L282.27,244.38 L283.80,244.70 L285.32,245.02 L286.85,245.34 L288.37,245.67 L289.90,245.99 L291.42,246.32 L292.95,246.65 L294.47,246.98 L296.00,247.31 L297.52,247.64 L299.05,247.98 L300.57,248.31 L302.10,248.65 L303.62,248.99 L305.15,249.33 L306.67,249.67 L308.20,250.01 L309.72,250.35 L311.25,250.69 L312.77,251.04 L314.30,251.38 L315.82,251.73 L317.35,252.08 L318.87,252.43 L320.40,252.78 L321.92,253.14 L323.45,253.50 L324.97,253.86 L326.50,254.23 L328.02,254.59 L329.55,254.97 L331.07,255.34 L332.59,255.72 L334.12,256.11 L335.64,256.50 L337.17,256.89 L338.69,257.29 L340.22,257.70 L341.74,258.11 L343.27,258.52 L344.79,258.95 L346.32,259.37 L347.84,259.81 L349.37,260.25 L350.89,260.70 L352.42,261.16 L353.94,261.62 L355.47,262.09 L356.99,262.57 L358.52,263.06 L360.04,263.56 L361.57,264.06 L363.09,264.58 L364.62,265.10 L366.14,265.63 L367.67,266.17 L369.19,266.73 L370.72,267.29 L372.24,267.86 L373.77,268.44 L375.29,269.04 L376.82,269.64 L378.34,270.26 L379.87,270.89 L381.39,271.53 L382.91,272.18 L384.44,272.84 L385.96,273.52 L387.49,274.21 L389.01,274.91 L390.54,275.62 L392.06,276.35 L393.59,277.09" stroke="#ff2b2b" stroke-width="1.55"/>
<path d="M180.90,231.82 L182.41,230.52 L184.68,230.14 L184.68,230.13 L186.21,230.27 L187.73,230.42 L189.26,230.57 L190.78,230.72 L192.31,230.88 L193.83,231.05 L195.36,231.22 L196.88,231.39 L198.41,231.57 L199.93,231.75 L201.46,231.94 L202.98,232.14 L204.51,232.33 L206.03,232.53 L207.56,232.74 L209.08,232.95 L210.61,233.16 L212.13,233.37 L213.66,233.59 L215.18,233.82 L216.71,234.04 L218.23,234.27 L219.76,234.50 L221.28,234.74 L222.81,234.98 L224.33,235.22 L225.86,235.46 L227.38,235.71 L228.91,235.95 L230.43,236.20 L231.95,236.46 L233.48,236.71 L235.00,236.97 L236.53,237.23 L238.05,237.49 L239.58,237.75 L241.10,238.01 L242.63,238.27 L244.15,238.54 L245.68,238.81 L247.20,239.07 L248.73,239.34 L250.25,239.61 L251.78,239.88 L253.30,240.16 L254.83,240.43 L256.35,240.71 L257.88,240.99 L259.40,241.27 L260.93,241.56 L262.45,241.84 L263.98,242.13 L265.50,242.43 L267.03,242.72 L268.55,243.02 L270.08,243.32 L271.60,243.63 L273.13,243.94 L274.65,244.25 L276.18,244.57 L277.70,244.89 L279.23,245.22 L280.75,245.55 L282.27,245.88 L283.80,246.22 L285.32,246.57 L286.85,246.92 L288.37,247.27 L289.90,247.63 L291.42,247.99 L292.95,248.37 L294.47,248.74 L296.00,249.13 L297.52,249.51 L299.05,249.91 L300.57,250.31 L302.10,250.72 L303.62,251.13 L305.15,251.55 L306.67,251.98 L308.20,252.42 L309.72,252.86 L311.25,253.31 L312.77,253.77 L314.30,254.23 L315.82,254.71 L317.35,255.19 L318.87,255.68 L320.40,256.17 L321.92,256.68 L323.45,257.20 L324.97,257.73 L326.50,258.27 L328.02,258.83 L329.55,259.41 L331.07,260.00 L332.59,260.62 L334.12,261.25 L335.64,261.91 L337.17,262.59 L338.69,263.29 L340.22,264.03 L341.74,264.78 L343.27,265.57 L344.79,266.39 L346.32,267.24 L347.84,268.13 L349.37,269.05 L350.89,270.01 L352.42,271.02 L353.94,272.09 L355.47,273.21 L356.99,274.40 L358.52,275.67 L360.04,277.01 L361.57,278.44 L363.09,279.96 L364.62,281.57 L366.14,283.29 L367.67,285.10 L369.19,287.03 L370.72,289.06 L372.24,291.20 L373.77,293.45 L375.29,295.81 L376.82,298.30 L378.34,300.90 L379.87,303.62 L381.39,306.46 L382.91,309.43 L384.44,312.52 L385.96,315.74 L387.49,319.10 L389.01,322.59 L390.54,326.21 L392.06,329.98 L393.59,333.88" stroke="#0c9526" stroke-width="1.55"/>
<path d="M180.90,229.02 L182.41,228.28 L184.68,227.91 L184.68,227.89 L186.21,228.04 L187.73,228.18 L189.26,228.33 L190.78,228.48 L192.31,228.63 L193.83,228.79 L195.36,228.94 L196.88,229.10 L198.41,229.26 L199.93,229.42 L201.46,229.59 L202.98,229.76 L204.51,229.93 L206.03,230.10 L207.56,230.27 L209.08,230.45 L210.61,230.63 L212.13,230.81 L213.66,231.00 L215.18,231.19 L216.71,231.38 L218.23,231.57 L219.76,231.77 L221.28,231.97 L222.81,232.17 L224.33,232.37 L225.86,232.58 L227.38,232.79 L228.91,233.01 L230.43,233.22 L231.95,233.44 L233.48,233.67 L235.00,233.89 L236.53,234.12 L238.05,234.35 L239.58,234.59 L241.10,234.83 L242.63,235.07 L244.15,235.32 L245.68,235.57 L247.20,235.82 L248.73,236.07 L250.25,236.33 L251.78,236.60 L253.30,236.86 L254.83,237.13 L256.35,237.41 L257.88,237.68 L259.40,237.97 L260.93,238.25 L262.45,238.54 L263.98,238.83 L265.50,239.13 L267.03,239.43 L268.55,239.73 L270.08,240.04 L271.60,240.35 L273.13,240.67 L274.65,240.99 L276.18,241.31 L277.70,241.64 L279.23,241.97 L280.75,242.31 L282.27,242.65 L283.80,242.99 L285.32,243.34 L286.85,243.69 L288.37,244.05 L289.90,244.41 L291.42,244.78 L292.95,245.15 L294.47,245.53 L296.00,245.91 L297.52,246.29 L299.05,246.68 L300.57,247.08 L302.10,247.47 L303.62,247.88 L305.15,248.29 L306.67,248.70 L308.20,249.12 L309.72,249.54 L311.25,249.97 L312.77,250.40 L314.30,250.84 L315.82,251.28 L317.35,251.72 L318.87,252.18 L320.40,252.63 L321.92,253.10 L323.45,253.57 L324.97,254.06 L326.50,254.57 L328.02,255.09 L329.55,255.63 L331.07,256.19 L332.59,256.79 L334.12,257.41 L335.64,258.06 L337.17,258.74 L338.69,259.47 L340.22,260.23 L341.74,261.04 L343.27,261.89 L344.79,262.79 L346.32,263.74 L347.84,264.74 L349.37,265.80 L350.89,266.92 L352.42,268.09 L353.94,269.34 L355.47,270.65 L356.99,272.03 L358.52,273.48 L360.04,275.00 L361.57,276.61 L363.09,278.29 L364.62,280.06 L366.14,281.92 L367.67,283.86 L369.19,285.91 L370.72,288.05 L372.24,290.29 L373.77,292.64 L375.29,295.10 L376.82,297.67 L378.34,300.36 L379.87,303.17 L381.39,306.10 L382.91,309.15 L384.44,312.34 L385.96,315.66 L387.49,319.12 L389.01,322.72 L390.54,326.46 L392.06,330.35 L393.59,334.39" stroke="#00eaf5" stroke-width="1.55"/>
<path d="M180.90,229.02 L182.41,228.09 L184.68,227.72 L184.68,227.71 L186.21,227.86 L187.73,228.01 L189.26,228.16 L190.78,228.32 L192.31,228.47 L193.83,228.63 L195.36,228.79 L196.88,228.94 L198.41,229.10 L199.93,229.27 L201.46,229.43 L202.98,229.60 L204.51,229.76 L206.03,229.93 L207.56,230.10 L209.08,230.28 L210.61,230.45 L212.13,230.63 L213.66,230.81 L215.18,230.99 L216.71,231.17 L218.23,231.36 L219.76,231.55 L221.28,231.74 L222.81,231.94 L224.33,232.13 L225.86,232.33 L227.38,232.54 L228.91,232.74 L230.43,232.95 L231.95,233.16 L233.48,233.38 L235.00,233.59 L236.53,233.81 L238.05,234.04 L239.58,234.27 L241.10,234.50 L242.63,234.73 L244.15,234.97 L245.68,235.21 L247.20,235.46 L248.73,235.71 L250.25,235.96 L251.78,236.22 L253.30,236.48 L254.83,236.75 L256.35,237.02 L257.88,237.29 L259.40,237.57 L260.93,237.85 L262.45,238.14 L263.98,238.43 L265.50,238.73 L267.03,239.03 L268.55,239.33 L270.08,239.64 L271.60,239.96 L273.13,240.28 L274.65,240.60 L276.18,240.93 L277.70,241.27 L279.23,241.61 L280.75,241.95 L282.27,242.30 L283.80,242.66 L285.32,243.02 L286.85,243.39 L288.37,243.76 L289.90,244.14 L291.42,244.53 L292.95,244.92 L294.47,245.31 L296.00,245.71 L297.52,246.12 L299.05,246.54 L300.57,246.96 L302.10,247.38 L303.62,247.82 L305.15,248.26 L306.67,248.70 L308.20,249.16 L309.72,249.61 L311.25,250.08 L312.77,250.55 L314.30,251.03 L315.82,251.52 L317.35,252.01 L318.87,252.51 L320.40,253.02 L321.92,253.53 L323.45,254.06 L324.97,254.60 L326.50,255.16 L328.02,255.74 L329.55,256.33 L331.07,256.95 L332.59,257.60 L334.12,258.27 L335.64,258.98 L337.17,259.71 L338.69,260.49 L340.22,261.29 L341.74,262.14 L343.27,263.04 L344.79,263.97 L346.32,264.95 L347.84,265.99 L349.37,267.07 L350.89,268.21 L352.42,269.40 L353.94,270.66 L355.47,271.99 L356.99,273.40 L358.52,274.88 L360.04,276.46 L361.57,278.14 L363.09,279.92 L364.62,281.81 L366.14,283.82 L367.67,285.95 L369.19,288.21 L370.72,290.61 L372.24,293.15 L373.77,295.83 L375.29,298.63 L376.82,301.56 L378.34,304.60 L379.87,307.75 L381.39,311.01 L382.91,314.36 L384.44,317.81 L385.96,321.35 L387.49,324.97 L389.01,328.66 L390.54,332.42 L392.06,336.25 L393.59,340.13" stroke="#2c2cff" stroke-width="1.55"/>
</g>
<rect x="172.3" y="329.4" width="72.1" height="61.0" rx="1.2" fill="#fff" fill-opacity="0.8" stroke="#d2d2d2" stroke-width="0.6"/>
<line x1="175.20" x2="188.60" y1="335.20" y2="335.20" stroke="#1c1c1c" stroke-width="1.4" stroke-opacity="0.93"/>
<text x="194.30" y="337.80" class="lg" style="font-size:6.0px">True value</text>
<line x1="175.20" x2="188.60" y1="345.06" y2="345.06" stroke="#ffa714" stroke-width="1.4" stroke-opacity="0.93"/>
<text x="194.30" y="347.06" class="lg" style="font-size:6.0px">LSTM</text>
<line x1="175.20" x2="188.60" y1="354.92" y2="354.92" stroke="#ff2b2b" stroke-width="1.4" stroke-opacity="0.93"/>
<text x="194.30" y="356.92" class="lg" style="font-size:6.0px">LSTM-AM</text>
<line x1="175.20" x2="188.60" y1="364.78" y2="364.78" stroke="#0c9526" stroke-width="1.4" stroke-opacity="0.93"/>
<text x="194.30" y="366.78" class="lg" style="font-size:6.0px">BiLSTM</text>
<line x1="175.20" x2="188.60" y1="374.64" y2="374.64" stroke="#00eaf5" stroke-width="1.4" stroke-opacity="0.93"/>
<text x="194.30" y="376.64" class="lg" style="font-size:6.0px">BiLSTM-AM</text>
<line x1="175.20" x2="188.60" y1="384.50" y2="384.50" stroke="#2c2cff" stroke-width="1.4" stroke-opacity="0.93"/>
<text x="194.30" y="386.50" class="lg" style="font-size:6.0px">BiLSTM-AM-TR</text>
<rect x="170.4" y="219.5" width="233.9" height="174.2" fill="none" stroke="#444" stroke-width="0.85"/>
<line x1="180.90" x2="180.90" y1="393.7" y2="395.8" stroke="#111" stroke-width="0.75"/>
<text x="180.90" y="403.70" text-anchor="middle" class="tk" style="font-size:6.7px">0</text>
<line x1="231.36" x2="231.36" y1="393.7" y2="395.8" stroke="#111" stroke-width="0.75"/>
<text x="231.36" y="403.70" text-anchor="middle" class="tk" style="font-size:6.7px">200</text>
<line x1="281.82" x2="281.82" y1="393.7" y2="395.8" stroke="#111" stroke-width="0.75"/>
<text x="281.82" y="403.70" text-anchor="middle" class="tk" style="font-size:6.7px">400</text>
<line x1="332.28" x2="332.28" y1="393.7" y2="395.8" stroke="#111" stroke-width="0.75"/>
<text x="332.28" y="403.70" text-anchor="middle" class="tk" style="font-size:6.7px">600</text>
<line x1="382.74" x2="382.74" y1="393.7" y2="395.8" stroke="#111" stroke-width="0.75"/>
<text x="382.74" y="403.70" text-anchor="middle" class="tk" style="font-size:6.7px">800</text>
<line x1="168.3" x2="170.4" y1="385.60" y2="385.60" stroke="#111" stroke-width="0.75"/>
<text x="165.00" y="387.80" text-anchor="end" class="tk" style="font-size:6.7px">0.800</text>
<line x1="168.3" x2="170.4" y1="362.30" y2="362.30" stroke="#111" stroke-width="0.75"/>
<text x="165.00" y="364.50" text-anchor="end" class="tk" style="font-size:6.7px">0.825</text>
<line x1="168.3" x2="170.4" y1="339.00" y2="339.00" stroke="#111" stroke-width="0.75"/>
<text x="165.00" y="341.20" text-anchor="end" class="tk" style="font-size:6.7px">0.850</text>
<line x1="168.3" x2="170.4" y1="315.70" y2="315.70" stroke="#111" stroke-width="0.75"/>
<text x="165.00" y="317.90" text-anchor="end" class="tk" style="font-size:6.7px">0.875</text>
<line x1="168.3" x2="170.4" y1="292.40" y2="292.40" stroke="#111" stroke-width="0.75"/>
<text x="165.00" y="294.60" text-anchor="end" class="tk" style="font-size:6.7px">0.900</text>
<line x1="168.3" x2="170.4" y1="269.10" y2="269.10" stroke="#111" stroke-width="0.75"/>
<text x="165.00" y="271.30" text-anchor="end" class="tk" style="font-size:6.7px">0.925</text>
<line x1="168.3" x2="170.4" y1="245.80" y2="245.80" stroke="#111" stroke-width="0.75"/>
<text x="165.00" y="248.00" text-anchor="end" class="tk" style="font-size:6.7px">0.950</text>
<line x1="168.3" x2="170.4" y1="222.50" y2="222.50" stroke="#111" stroke-width="0.75"/>
<text x="165.00" y="224.70" text-anchor="end" class="tk" style="font-size:6.7px">0.975</text>
<text x="286.8" y="414.5" text-anchor="middle" class="ax">Cycle</text>
<text transform="translate(145.3,307.8) rotate(-90)" text-anchor="middle" class="ax">SOH</text>
<text transform="translate(134.6,214.7) scale(1.125,1)" text-anchor="middle" class="cap">(<tspan>a</tspan>) Battery 1_2</text>
<text transform="translate(411.8,215.4) scale(1.125,1)" text-anchor="middle" class="cap">(<tspan>b</tspan>) Battery 2_2</text>
<text transform="translate(270.6,429.1) scale(1.125,1)" text-anchor="middle" class="cap">(<tspan>c</tspan>) Battery 3-2</text>
</g>
</svg>
</body></html>
